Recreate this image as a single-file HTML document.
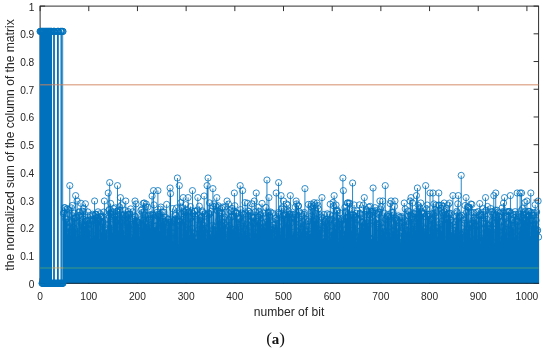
<!DOCTYPE html>
<html><head><meta charset="utf-8"><title>figure</title>
<style>html,body{margin:0;padding:0;background:#fff}svg{display:block}</style></head>
<body>
<svg width="550" height="350" viewBox="0 0 550 350">
<rect width="550" height="350" fill="#fff"/>
<rect x="40.1" y="6.1" width="498.5" height="277.2" fill="none" stroke="#262626" stroke-width="0.95"/>
<path d="M40.10 283.3v-5M40.10 6.1v5M40.1 283.30h5M538.6 283.30h-5M88.78 283.3v-5M88.78 6.1v5M40.1 255.58h5M538.6 255.58h-5M137.46 283.3v-5M137.46 6.1v5M40.1 227.86h5M538.6 227.86h-5M186.14 283.3v-5M186.14 6.1v5M40.1 200.14h5M538.6 200.14h-5M234.83 283.3v-5M234.83 6.1v5M40.1 172.42h5M538.6 172.42h-5M283.51 283.3v-5M283.51 6.1v5M40.1 144.70h5M538.6 144.70h-5M332.19 283.3v-5M332.19 6.1v5M40.1 116.98h5M538.6 116.98h-5M380.87 283.3v-5M380.87 6.1v5M40.1 89.26h5M538.6 89.26h-5M429.55 283.3v-5M429.55 6.1v5M40.1 61.54h5M538.6 61.54h-5M478.23 283.3v-5M478.23 6.1v5M40.1 33.82h5M538.6 33.82h-5M526.92 283.3v-5M526.92 6.1v5M40.1 6.10h5M538.6 6.10h-5" stroke="#262626" stroke-width="0.95" fill="none"/>
<defs><linearGradient id="g" x1="0" y1="0" x2="0" y2="1"><stop offset="0" stop-color="#0072BD" stop-opacity="0"/><stop offset="0.3" stop-color="#0072BD" stop-opacity="0.45"/><stop offset="1" stop-color="#0072BD" stop-opacity="0.85"/></linearGradient></defs>
<rect x="63.47" y="208" width="475.13" height="40" fill="url(#g)"/>
<rect x="63.47" y="248" width="475.13" height="35.30" fill="#0072BD" fill-opacity="0.85"/>
<path d="M39.6 283.3V31.41H52.0V283.3zM53.1 283.3V31.41H54.9V283.3zM57.0 283.3V31.41H58.8V283.3zM60.5 283.3V31.41H61.9V283.3zM62.3 283.3V31.41H63.15V283.3zM63.04 283.3V213.55h0.85V283.3zM63.53 283.3V211.99h0.85V283.3zM64.02 283.3V207.70h0.85V283.3zM64.50 283.3V207.78h0.85V283.3zM64.99 283.3V209.68h0.85V283.3zM65.48 283.3V219.26h0.85V283.3zM65.96 283.3V218.80h0.85V283.3zM66.45 283.3V222.21h0.85V283.3zM66.94 283.3V208.88h0.85V283.3zM67.42 283.3V233.83h0.85V283.3zM67.91 283.3V228.55h0.85V283.3zM68.40 283.3V209.84h0.85V283.3zM68.88 283.3V226.81h0.85V283.3zM69.37 283.3V185.60h0.85V283.3zM69.86 283.3V236.22h0.85V283.3zM70.34 283.3V222.79h0.85V283.3zM70.83 283.3V207.84h0.85V283.3zM71.32 283.3V229.69h0.85V283.3zM71.80 283.3V205.48h0.85V283.3zM72.29 283.3V215.79h0.85V283.3zM72.78 283.3V227.70h0.85V283.3zM73.27 283.3V217.99h0.85V283.3zM73.75 283.3V213.15h0.85V283.3zM74.24 283.3V218.29h0.85V283.3zM74.73 283.3V228.90h0.85V283.3zM75.21 283.3V195.60h0.85V283.3zM75.70 283.3V217.55h0.85V283.3zM76.19 283.3V236.98h0.85V283.3zM76.67 283.3V201.00h0.85V283.3zM77.16 283.3V227.91h0.85V283.3zM77.65 283.3V234.48h0.85V283.3zM78.13 283.3V212.31h0.85V283.3zM78.62 283.3V215.46h0.85V283.3zM79.11 283.3V211.66h0.85V283.3zM79.59 283.3V221.50h0.85V283.3zM80.08 283.3V235.15h0.85V283.3zM80.57 283.3V203.30h0.85V283.3zM81.05 283.3V223.07h0.85V283.3zM81.54 283.3V225.41h0.85V283.3zM82.03 283.3V211.15h0.85V283.3zM82.51 283.3V219.07h0.85V283.3zM83.00 283.3V211.78h0.85V283.3zM83.49 283.3V208.36h0.85V283.3zM83.98 283.3V225.91h0.85V283.3zM84.46 283.3V225.38h0.85V283.3zM84.95 283.3V203.78h0.85V283.3zM85.44 283.3V225.85h0.85V283.3zM85.92 283.3V221.34h0.85V283.3zM86.41 283.3V220.65h0.85V283.3zM86.90 283.3V219.98h0.85V283.3zM87.38 283.3V211.92h0.85V283.3zM87.87 283.3V224.26h0.85V283.3zM88.36 283.3V228.88h0.85V283.3zM88.84 283.3V220.19h0.85V283.3zM89.33 283.3V230.29h0.85V283.3zM89.82 283.3V215.58h0.85V283.3zM90.30 283.3V238.58h0.85V283.3zM90.79 283.3V219.49h0.85V283.3zM91.28 283.3V221.34h0.85V283.3zM91.76 283.3V237.66h0.85V283.3zM92.25 283.3V214.33h0.85V283.3zM92.74 283.3V220.83h0.85V283.3zM93.22 283.3V215.41h0.85V283.3zM93.71 283.3V235.76h0.85V283.3zM94.20 283.3V201.00h0.85V283.3zM94.69 283.3V219.95h0.85V283.3zM95.17 283.3V214.33h0.85V283.3zM95.66 283.3V214.51h0.85V283.3zM96.15 283.3V223.49h0.85V283.3zM96.63 283.3V217.88h0.85V283.3zM97.12 283.3V217.78h0.85V283.3zM97.61 283.3V211.83h0.85V283.3zM98.09 283.3V220.64h0.85V283.3zM98.58 283.3V220.56h0.85V283.3zM99.07 283.3V239.01h0.85V283.3zM99.55 283.3V213.82h0.85V283.3zM100.04 283.3V221.00h0.85V283.3zM100.53 283.3V216.19h0.85V283.3zM101.01 283.3V217.47h0.85V283.3zM101.50 283.3V232.27h0.85V283.3zM101.99 283.3V223.63h0.85V283.3zM102.47 283.3V222.04h0.85V283.3zM102.96 283.3V216.61h0.85V283.3zM103.45 283.3V212.05h0.85V283.3zM103.93 283.3V201.00h0.85V283.3zM104.42 283.3V227.56h0.85V283.3zM104.91 283.3V220.15h0.85V283.3zM105.40 283.3V233.20h0.85V283.3zM105.88 283.3V230.52h0.85V283.3zM106.37 283.3V229.24h0.85V283.3zM106.86 283.3V240.06h0.85V283.3zM107.34 283.3V218.58h0.85V283.3zM107.83 283.3V193.00h0.85V283.3zM108.32 283.3V210.64h0.85V283.3zM108.80 283.3V209.51h0.85V283.3zM109.29 283.3V182.60h0.85V283.3zM109.78 283.3V213.06h0.85V283.3zM110.26 283.3V203.46h0.85V283.3zM110.75 283.3V214.43h0.85V283.3zM111.24 283.3V224.64h0.85V283.3zM111.72 283.3V232.38h0.85V283.3zM112.21 283.3V216.89h0.85V283.3zM112.70 283.3V211.74h0.85V283.3zM113.18 283.3V208.66h0.85V283.3zM113.67 283.3V215.02h0.85V283.3zM114.16 283.3V215.73h0.85V283.3zM114.64 283.3V217.10h0.85V283.3zM115.13 283.3V207.80h0.85V283.3zM115.62 283.3V222.06h0.85V283.3zM116.11 283.3V216.25h0.85V283.3zM116.59 283.3V211.24h0.85V283.3zM117.08 283.3V185.60h0.85V283.3zM117.57 283.3V214.52h0.85V283.3zM118.05 283.3V230.22h0.85V283.3zM118.54 283.3V219.23h0.85V283.3zM119.03 283.3V206.82h0.85V283.3zM119.51 283.3V210.26h0.85V283.3zM120.00 283.3V197.60h0.85V283.3zM120.49 283.3V214.11h0.85V283.3zM120.97 283.3V222.82h0.85V283.3zM121.46 283.3V204.87h0.85V283.3zM121.95 283.3V220.24h0.85V283.3zM122.43 283.3V215.04h0.85V283.3zM122.92 283.3V216.85h0.85V283.3zM123.41 283.3V230.12h0.85V283.3zM123.89 283.3V214.25h0.85V283.3zM124.38 283.3V234.97h0.85V283.3zM124.87 283.3V210.56h0.85V283.3zM125.35 283.3V201.00h0.85V283.3zM125.84 283.3V215.97h0.85V283.3zM126.33 283.3V223.20h0.85V283.3zM126.82 283.3V214.68h0.85V283.3zM127.30 283.3V223.82h0.85V283.3zM127.79 283.3V211.53h0.85V283.3zM128.28 283.3V214.49h0.85V283.3zM128.76 283.3V221.70h0.85V283.3zM129.25 283.3V214.17h0.85V283.3zM129.74 283.3V221.53h0.85V283.3zM130.22 283.3V208.91h0.85V283.3zM130.71 283.3V237.66h0.85V283.3zM131.20 283.3V224.71h0.85V283.3zM131.68 283.3V234.68h0.85V283.3zM132.17 283.3V211.85h0.85V283.3zM132.66 283.3V224.04h0.85V283.3zM133.14 283.3V219.74h0.85V283.3zM133.63 283.3V226.67h0.85V283.3zM134.12 283.3V215.83h0.85V283.3zM134.60 283.3V201.00h0.85V283.3zM135.09 283.3V216.68h0.85V283.3zM135.58 283.3V203.90h0.85V283.3zM136.06 283.3V220.75h0.85V283.3zM136.55 283.3V222.55h0.85V283.3zM137.04 283.3V221.71h0.85V283.3zM137.53 283.3V223.70h0.85V283.3zM138.01 283.3V224.78h0.85V283.3zM138.50 283.3V222.61h0.85V283.3zM138.99 283.3V228.28h0.85V283.3zM139.47 283.3V236.35h0.85V283.3zM139.96 283.3V219.83h0.85V283.3zM140.45 283.3V210.39h0.85V283.3zM140.93 283.3V225.97h0.85V283.3zM141.42 283.3V209.25h0.85V283.3zM141.91 283.3V212.47h0.85V283.3zM142.39 283.3V228.94h0.85V283.3zM142.88 283.3V203.36h0.85V283.3zM143.37 283.3V220.08h0.85V283.3zM143.85 283.3V203.00h0.85V283.3zM144.34 283.3V222.54h0.85V283.3zM144.83 283.3V215.15h0.85V283.3zM145.31 283.3V206.84h0.85V283.3zM145.80 283.3V204.05h0.85V283.3zM146.29 283.3V223.80h0.85V283.3zM146.77 283.3V228.50h0.85V283.3zM147.26 283.3V207.15h0.85V283.3zM147.75 283.3V216.11h0.85V283.3zM148.24 283.3V214.87h0.85V283.3zM148.72 283.3V219.16h0.85V283.3zM149.21 283.3V225.92h0.85V283.3zM149.70 283.3V228.49h0.85V283.3zM150.18 283.3V214.79h0.85V283.3zM150.67 283.3V222.24h0.85V283.3zM151.16 283.3V218.75h0.85V283.3zM151.64 283.3V196.00h0.85V283.3zM152.13 283.3V214.14h0.85V283.3zM152.62 283.3V215.27h0.85V283.3zM153.10 283.3V190.60h0.85V283.3zM153.59 283.3V204.88h0.85V283.3zM154.08 283.3V226.66h0.85V283.3zM154.56 283.3V228.04h0.85V283.3zM155.05 283.3V226.29h0.85V283.3zM155.54 283.3V214.98h0.85V283.3zM156.02 283.3V225.65h0.85V283.3zM156.51 283.3V212.42h0.85V283.3zM157.00 283.3V216.13h0.85V283.3zM157.48 283.3V190.60h0.85V283.3zM157.97 283.3V214.29h0.85V283.3zM158.46 283.3V216.97h0.85V283.3zM158.95 283.3V214.83h0.85V283.3zM159.43 283.3V231.09h0.85V283.3zM159.92 283.3V209.17h0.85V283.3zM160.41 283.3V207.04h0.85V283.3zM160.89 283.3V223.19h0.85V283.3zM161.38 283.3V221.67h0.85V283.3zM161.87 283.3V211.96h0.85V283.3zM162.35 283.3V219.30h0.85V283.3zM162.84 283.3V221.42h0.85V283.3zM163.33 283.3V212.09h0.85V283.3zM163.81 283.3V221.75h0.85V283.3zM164.30 283.3V221.72h0.85V283.3zM164.79 283.3V217.10h0.85V283.3zM165.27 283.3V224.24h0.85V283.3zM165.76 283.3V235.55h0.85V283.3zM166.25 283.3V204.41h0.85V283.3zM166.73 283.3V226.80h0.85V283.3zM167.22 283.3V228.30h0.85V283.3zM167.71 283.3V218.94h0.85V283.3zM168.19 283.3V219.36h0.85V283.3zM168.68 283.3V222.89h0.85V283.3zM169.17 283.3V222.60h0.85V283.3zM169.65 283.3V188.00h0.85V283.3zM170.14 283.3V193.60h0.85V283.3zM170.63 283.3V222.48h0.85V283.3zM171.12 283.3V219.86h0.85V283.3zM171.60 283.3V232.72h0.85V283.3zM172.09 283.3V208.60h0.85V283.3zM172.58 283.3V240.94h0.85V283.3zM173.06 283.3V222.55h0.85V283.3zM173.55 283.3V233.24h0.85V283.3zM174.04 283.3V220.94h0.85V283.3zM174.52 283.3V214.95h0.85V283.3zM175.01 283.3V219.11h0.85V283.3zM175.50 283.3V215.39h0.85V283.3zM175.98 283.3V208.07h0.85V283.3zM176.47 283.3V219.77h0.85V283.3zM176.96 283.3V178.00h0.85V283.3zM177.44 283.3V225.40h0.85V283.3zM177.93 283.3V244.34h0.85V283.3zM178.42 283.3V221.82h0.85V283.3zM178.90 283.3V185.60h0.85V283.3zM179.39 283.3V221.40h0.85V283.3zM179.88 283.3V221.12h0.85V283.3zM180.36 283.3V202.69h0.85V283.3zM180.85 283.3V213.93h0.85V283.3zM181.34 283.3V207.32h0.85V283.3zM181.83 283.3V238.00h0.85V283.3zM182.31 283.3V219.84h0.85V283.3zM182.80 283.3V197.60h0.85V283.3zM183.29 283.3V211.45h0.85V283.3zM183.77 283.3V222.47h0.85V283.3zM184.26 283.3V212.40h0.85V283.3zM184.75 283.3V211.83h0.85V283.3zM185.23 283.3V204.66h0.85V283.3zM185.72 283.3V230.04h0.85V283.3zM186.21 283.3V209.58h0.85V283.3zM186.69 283.3V212.57h0.85V283.3zM187.18 283.3V224.50h0.85V283.3zM187.67 283.3V197.60h0.85V283.3zM188.15 283.3V211.88h0.85V283.3zM188.64 283.3V234.89h0.85V283.3zM189.13 283.3V216.11h0.85V283.3zM189.61 283.3V218.70h0.85V283.3zM190.10 283.3V206.57h0.85V283.3zM190.59 283.3V217.83h0.85V283.3zM191.07 283.3V210.87h0.85V283.3zM191.56 283.3V228.46h0.85V283.3zM192.05 283.3V190.60h0.85V283.3zM192.54 283.3V213.56h0.85V283.3zM193.02 283.3V233.52h0.85V283.3zM193.51 283.3V232.85h0.85V283.3zM194.00 283.3V211.28h0.85V283.3zM194.48 283.3V216.17h0.85V283.3zM194.97 283.3V211.42h0.85V283.3zM195.46 283.3V238.75h0.85V283.3zM195.94 283.3V239.07h0.85V283.3zM196.43 283.3V219.37h0.85V283.3zM196.92 283.3V210.00h0.85V283.3zM197.40 283.3V197.60h0.85V283.3zM197.89 283.3V214.70h0.85V283.3zM198.38 283.3V229.66h0.85V283.3zM198.86 283.3V206.16h0.85V283.3zM199.35 283.3V225.40h0.85V283.3zM199.84 283.3V217.83h0.85V283.3zM200.32 283.3V221.34h0.85V283.3zM200.81 283.3V220.36h0.85V283.3zM201.30 283.3V216.77h0.85V283.3zM201.78 283.3V210.83h0.85V283.3zM202.27 283.3V212.16h0.85V283.3zM202.76 283.3V225.02h0.85V283.3zM203.25 283.3V230.26h0.85V283.3zM203.73 283.3V196.00h0.85V283.3zM204.22 283.3V213.89h0.85V283.3zM204.71 283.3V222.66h0.85V283.3zM205.19 283.3V228.25h0.85V283.3zM205.68 283.3V238.46h0.85V283.3zM206.17 283.3V215.42h0.85V283.3zM206.65 283.3V185.60h0.85V283.3zM207.14 283.3V229.68h0.85V283.3zM207.63 283.3V178.00h0.85V283.3zM208.11 283.3V213.03h0.85V283.3zM208.60 283.3V214.65h0.85V283.3zM209.09 283.3V202.89h0.85V283.3zM209.57 283.3V213.73h0.85V283.3zM210.06 283.3V234.93h0.85V283.3zM210.55 283.3V234.18h0.85V283.3zM211.03 283.3V211.38h0.85V283.3zM211.52 283.3V236.76h0.85V283.3zM212.01 283.3V225.46h0.85V283.3zM212.49 283.3V188.60h0.85V283.3zM212.98 283.3V206.48h0.85V283.3zM213.47 283.3V203.88h0.85V283.3zM213.96 283.3V234.72h0.85V283.3zM214.44 283.3V225.98h0.85V283.3zM214.93 283.3V227.48h0.85V283.3zM215.42 283.3V205.95h0.85V283.3zM215.90 283.3V230.63h0.85V283.3zM216.39 283.3V197.60h0.85V283.3zM216.88 283.3V210.57h0.85V283.3zM217.36 283.3V207.62h0.85V283.3zM217.85 283.3V205.78h0.85V283.3zM218.34 283.3V220.18h0.85V283.3zM218.82 283.3V212.55h0.85V283.3zM219.31 283.3V216.18h0.85V283.3zM219.80 283.3V219.23h0.85V283.3zM220.28 283.3V227.60h0.85V283.3zM220.77 283.3V213.07h0.85V283.3zM221.26 283.3V208.48h0.85V283.3zM221.74 283.3V213.35h0.85V283.3zM222.23 283.3V207.05h0.85V283.3zM222.72 283.3V226.47h0.85V283.3zM223.20 283.3V222.88h0.85V283.3zM223.69 283.3V219.35h0.85V283.3zM224.18 283.3V217.09h0.85V283.3zM224.67 283.3V206.78h0.85V283.3zM225.15 283.3V225.36h0.85V283.3zM225.64 283.3V239.35h0.85V283.3zM226.13 283.3V231.44h0.85V283.3zM226.61 283.3V201.00h0.85V283.3zM227.10 283.3V229.03h0.85V283.3zM227.59 283.3V227.42h0.85V283.3zM228.07 283.3V204.06h0.85V283.3zM228.56 283.3V219.61h0.85V283.3zM229.05 283.3V226.10h0.85V283.3zM229.53 283.3V210.37h0.85V283.3zM230.02 283.3V228.96h0.85V283.3zM230.51 283.3V217.06h0.85V283.3zM230.99 283.3V211.76h0.85V283.3zM231.48 283.3V208.42h0.85V283.3zM231.97 283.3V216.62h0.85V283.3zM232.45 283.3V229.60h0.85V283.3zM232.94 283.3V229.50h0.85V283.3zM233.43 283.3V210.88h0.85V283.3zM233.91 283.3V193.00h0.85V283.3zM234.40 283.3V205.70h0.85V283.3zM234.89 283.3V231.40h0.85V283.3zM235.38 283.3V213.31h0.85V283.3zM235.86 283.3V212.35h0.85V283.3zM236.35 283.3V213.30h0.85V283.3zM236.84 283.3V216.75h0.85V283.3zM237.32 283.3V223.71h0.85V283.3zM237.81 283.3V219.43h0.85V283.3zM238.30 283.3V227.30h0.85V283.3zM238.78 283.3V218.60h0.85V283.3zM239.27 283.3V236.81h0.85V283.3zM239.76 283.3V185.60h0.85V283.3zM240.24 283.3V209.59h0.85V283.3zM240.73 283.3V232.40h0.85V283.3zM241.22 283.3V213.13h0.85V283.3zM241.70 283.3V234.40h0.85V283.3zM242.19 283.3V190.60h0.85V283.3zM242.68 283.3V222.87h0.85V283.3zM243.16 283.3V214.26h0.85V283.3zM243.65 283.3V221.04h0.85V283.3zM244.14 283.3V231.04h0.85V283.3zM244.62 283.3V202.60h0.85V283.3zM245.11 283.3V229.28h0.85V283.3zM245.60 283.3V213.74h0.85V283.3zM246.09 283.3V234.45h0.85V283.3zM246.57 283.3V224.14h0.85V283.3zM247.06 283.3V203.20h0.85V283.3zM247.55 283.3V210.78h0.85V283.3zM248.03 283.3V215.50h0.85V283.3zM248.52 283.3V211.39h0.85V283.3zM249.01 283.3V226.94h0.85V283.3zM249.49 283.3V236.74h0.85V283.3zM249.98 283.3V213.11h0.85V283.3zM250.47 283.3V238.27h0.85V283.3zM250.95 283.3V216.61h0.85V283.3zM251.44 283.3V203.79h0.85V283.3zM251.93 283.3V217.66h0.85V283.3zM252.41 283.3V222.80h0.85V283.3zM252.90 283.3V217.43h0.85V283.3zM253.39 283.3V223.53h0.85V283.3zM253.87 283.3V201.00h0.85V283.3zM254.36 283.3V232.53h0.85V283.3zM254.85 283.3V211.84h0.85V283.3zM255.33 283.3V223.41h0.85V283.3zM255.82 283.3V193.00h0.85V283.3zM256.31 283.3V233.33h0.85V283.3zM256.80 283.3V221.52h0.85V283.3zM257.28 283.3V221.33h0.85V283.3zM257.77 283.3V207.16h0.85V283.3zM258.26 283.3V217.23h0.85V283.3zM258.74 283.3V211.37h0.85V283.3zM259.23 283.3V223.18h0.85V283.3zM259.72 283.3V215.17h0.85V283.3zM260.20 283.3V214.08h0.85V283.3zM260.69 283.3V228.07h0.85V283.3zM261.18 283.3V228.31h0.85V283.3zM261.66 283.3V203.41h0.85V283.3zM262.15 283.3V223.49h0.85V283.3zM262.64 283.3V213.04h0.85V283.3zM263.12 283.3V226.48h0.85V283.3zM263.61 283.3V227.21h0.85V283.3zM264.10 283.3V228.90h0.85V283.3zM264.58 283.3V222.06h0.85V283.3zM265.07 283.3V227.67h0.85V283.3zM265.56 283.3V207.43h0.85V283.3zM266.04 283.3V218.81h0.85V283.3zM266.53 283.3V180.00h0.85V283.3zM267.02 283.3V221.63h0.85V283.3zM267.51 283.3V213.14h0.85V283.3zM267.99 283.3V212.06h0.85V283.3zM268.48 283.3V197.60h0.85V283.3zM268.97 283.3V216.07h0.85V283.3zM269.45 283.3V217.17h0.85V283.3zM269.94 283.3V211.90h0.85V283.3zM270.43 283.3V220.12h0.85V283.3zM270.91 283.3V229.05h0.85V283.3zM271.40 283.3V229.76h0.85V283.3zM271.89 283.3V213.15h0.85V283.3zM272.37 283.3V227.38h0.85V283.3zM272.86 283.3V225.23h0.85V283.3zM273.35 283.3V238.79h0.85V283.3zM273.83 283.3V228.48h0.85V283.3zM274.32 283.3V230.05h0.85V283.3zM274.81 283.3V218.66h0.85V283.3zM275.29 283.3V236.78h0.85V283.3zM275.78 283.3V193.00h0.85V283.3zM276.27 283.3V228.65h0.85V283.3zM276.75 283.3V220.07h0.85V283.3zM277.24 283.3V231.24h0.85V283.3zM277.73 283.3V212.77h0.85V283.3zM278.22 283.3V182.60h0.85V283.3zM278.70 283.3V214.24h0.85V283.3zM279.19 283.3V216.15h0.85V283.3zM279.68 283.3V232.12h0.85V283.3zM280.16 283.3V234.60h0.85V283.3zM280.65 283.3V195.60h0.85V283.3zM281.14 283.3V209.20h0.85V283.3zM281.62 283.3V207.84h0.85V283.3zM282.11 283.3V226.32h0.85V283.3zM282.60 283.3V215.66h0.85V283.3zM283.08 283.3V201.00h0.85V283.3zM283.57 283.3V215.19h0.85V283.3zM284.06 283.3V215.42h0.85V283.3zM284.54 283.3V219.36h0.85V283.3zM285.03 283.3V214.29h0.85V283.3zM285.52 283.3V237.98h0.85V283.3zM286.00 283.3V203.92h0.85V283.3zM286.49 283.3V222.79h0.85V283.3zM286.98 283.3V212.39h0.85V283.3zM287.46 283.3V204.98h0.85V283.3zM287.95 283.3V225.31h0.85V283.3zM288.44 283.3V211.26h0.85V283.3zM288.93 283.3V214.06h0.85V283.3zM289.41 283.3V214.48h0.85V283.3zM289.90 283.3V195.60h0.85V283.3zM290.39 283.3V223.01h0.85V283.3zM290.87 283.3V217.44h0.85V283.3zM291.36 283.3V218.56h0.85V283.3zM291.85 283.3V214.57h0.85V283.3zM292.33 283.3V234.91h0.85V283.3zM292.82 283.3V232.41h0.85V283.3zM293.31 283.3V216.92h0.85V283.3zM293.79 283.3V217.61h0.85V283.3zM294.28 283.3V214.20h0.85V283.3zM294.77 283.3V207.14h0.85V283.3zM295.25 283.3V214.81h0.85V283.3zM295.74 283.3V201.00h0.85V283.3zM296.23 283.3V203.86h0.85V283.3zM296.71 283.3V231.20h0.85V283.3zM297.20 283.3V237.78h0.85V283.3zM297.69 283.3V205.78h0.85V283.3zM298.17 283.3V206.04h0.85V283.3zM298.66 283.3V235.05h0.85V283.3zM299.15 283.3V211.93h0.85V283.3zM299.63 283.3V223.29h0.85V283.3zM300.12 283.3V229.10h0.85V283.3zM300.61 283.3V213.56h0.85V283.3zM301.10 283.3V232.65h0.85V283.3zM301.58 283.3V215.98h0.85V283.3zM302.07 283.3V229.49h0.85V283.3zM302.56 283.3V221.94h0.85V283.3zM303.04 283.3V225.89h0.85V283.3zM303.53 283.3V214.36h0.85V283.3zM304.02 283.3V212.55h0.85V283.3zM304.50 283.3V188.60h0.85V283.3zM304.99 283.3V219.24h0.85V283.3zM305.48 283.3V231.11h0.85V283.3zM305.96 283.3V236.10h0.85V283.3zM306.45 283.3V226.08h0.85V283.3zM306.94 283.3V234.10h0.85V283.3zM307.42 283.3V221.40h0.85V283.3zM307.91 283.3V204.48h0.85V283.3zM308.40 283.3V226.23h0.85V283.3zM308.88 283.3V218.92h0.85V283.3zM309.37 283.3V233.90h0.85V283.3zM309.86 283.3V234.37h0.85V283.3zM310.34 283.3V206.43h0.85V283.3zM310.83 283.3V204.15h0.85V283.3zM311.32 283.3V215.90h0.85V283.3zM311.81 283.3V208.13h0.85V283.3zM312.29 283.3V211.68h0.85V283.3zM312.78 283.3V205.71h0.85V283.3zM313.27 283.3V220.82h0.85V283.3zM313.75 283.3V202.67h0.85V283.3zM314.24 283.3V221.67h0.85V283.3zM314.73 283.3V205.00h0.85V283.3zM315.21 283.3V220.57h0.85V283.3zM315.70 283.3V218.89h0.85V283.3zM316.19 283.3V213.59h0.85V283.3zM316.67 283.3V203.00h0.85V283.3zM317.16 283.3V224.82h0.85V283.3zM317.65 283.3V205.65h0.85V283.3zM318.13 283.3V208.85h0.85V283.3zM318.62 283.3V214.57h0.85V283.3zM319.11 283.3V230.35h0.85V283.3zM319.59 283.3V224.17h0.85V283.3zM320.08 283.3V226.63h0.85V283.3zM320.57 283.3V230.10h0.85V283.3zM321.05 283.3V217.04h0.85V283.3zM321.54 283.3V197.60h0.85V283.3zM322.03 283.3V218.45h0.85V283.3zM322.52 283.3V238.97h0.85V283.3zM323.00 283.3V238.25h0.85V283.3zM323.49 283.3V214.56h0.85V283.3zM323.98 283.3V227.86h0.85V283.3zM324.46 283.3V221.88h0.85V283.3zM324.95 283.3V221.21h0.85V283.3zM325.44 283.3V219.59h0.85V283.3zM325.92 283.3V223.61h0.85V283.3zM326.41 283.3V224.59h0.85V283.3zM326.90 283.3V213.86h0.85V283.3zM327.38 283.3V226.38h0.85V283.3zM327.87 283.3V221.74h0.85V283.3zM328.36 283.3V240.24h0.85V283.3zM328.84 283.3V219.76h0.85V283.3zM329.33 283.3V214.60h0.85V283.3zM329.82 283.3V204.18h0.85V283.3zM330.30 283.3V238.52h0.85V283.3zM330.79 283.3V231.68h0.85V283.3zM331.28 283.3V219.40h0.85V283.3zM331.76 283.3V215.88h0.85V283.3zM332.25 283.3V231.34h0.85V283.3zM332.74 283.3V202.38h0.85V283.3zM333.23 283.3V205.82h0.85V283.3zM333.71 283.3V195.60h0.85V283.3zM334.20 283.3V223.72h0.85V283.3zM334.69 283.3V222.00h0.85V283.3zM335.17 283.3V228.65h0.85V283.3zM335.66 283.3V205.00h0.85V283.3zM336.15 283.3V211.30h0.85V283.3zM336.63 283.3V209.89h0.85V283.3zM337.12 283.3V211.30h0.85V283.3zM337.61 283.3V242.07h0.85V283.3zM338.09 283.3V218.78h0.85V283.3zM338.58 283.3V223.66h0.85V283.3zM339.07 283.3V222.33h0.85V283.3zM339.55 283.3V212.83h0.85V283.3zM340.04 283.3V230.25h0.85V283.3zM340.53 283.3V221.28h0.85V283.3zM341.01 283.3V219.08h0.85V283.3zM341.50 283.3V220.19h0.85V283.3zM341.99 283.3V224.33h0.85V283.3zM342.47 283.3V178.00h0.85V283.3zM342.96 283.3V190.60h0.85V283.3zM343.45 283.3V235.48h0.85V283.3zM343.94 283.3V230.64h0.85V283.3zM344.42 283.3V207.25h0.85V283.3zM344.91 283.3V212.68h0.85V283.3zM345.40 283.3V211.53h0.85V283.3zM345.88 283.3V219.29h0.85V283.3zM346.37 283.3V217.69h0.85V283.3zM346.86 283.3V203.03h0.85V283.3zM347.34 283.3V203.00h0.85V283.3zM347.83 283.3V216.86h0.85V283.3zM348.32 283.3V209.69h0.85V283.3zM348.80 283.3V203.00h0.85V283.3zM349.29 283.3V203.58h0.85V283.3zM349.78 283.3V217.45h0.85V283.3zM350.26 283.3V215.36h0.85V283.3zM350.75 283.3V230.46h0.85V283.3zM351.24 283.3V217.85h0.85V283.3zM351.72 283.3V214.56h0.85V283.3zM352.21 283.3V183.00h0.85V283.3zM352.70 283.3V215.26h0.85V283.3zM353.18 283.3V215.20h0.85V283.3zM353.67 283.3V204.94h0.85V283.3zM354.16 283.3V217.15h0.85V283.3zM354.65 283.3V224.64h0.85V283.3zM355.13 283.3V217.28h0.85V283.3zM355.62 283.3V241.41h0.85V283.3zM356.11 283.3V213.30h0.85V283.3zM356.59 283.3V219.80h0.85V283.3zM357.08 283.3V210.96h0.85V283.3zM357.57 283.3V236.94h0.85V283.3zM358.05 283.3V233.34h0.85V283.3zM358.54 283.3V231.64h0.85V283.3zM359.03 283.3V204.88h0.85V283.3zM359.51 283.3V213.30h0.85V283.3zM360.00 283.3V214.31h0.85V283.3zM360.49 283.3V230.27h0.85V283.3zM360.97 283.3V222.40h0.85V283.3zM361.46 283.3V215.57h0.85V283.3zM361.95 283.3V222.54h0.85V283.3zM362.43 283.3V222.29h0.85V283.3zM362.92 283.3V205.05h0.85V283.3zM363.41 283.3V228.36h0.85V283.3zM363.89 283.3V197.60h0.85V283.3zM364.38 283.3V214.37h0.85V283.3zM364.87 283.3V223.69h0.85V283.3zM365.36 283.3V222.22h0.85V283.3zM365.84 283.3V209.42h0.85V283.3zM366.33 283.3V210.87h0.85V283.3zM366.82 283.3V211.73h0.85V283.3zM367.30 283.3V223.09h0.85V283.3zM367.79 283.3V226.08h0.85V283.3zM368.28 283.3V207.13h0.85V283.3zM368.76 283.3V214.63h0.85V283.3zM369.25 283.3V214.89h0.85V283.3zM369.74 283.3V206.38h0.85V283.3zM370.22 283.3V211.26h0.85V283.3zM370.71 283.3V238.89h0.85V283.3zM371.20 283.3V239.42h0.85V283.3zM371.68 283.3V211.41h0.85V283.3zM372.17 283.3V213.01h0.85V283.3zM372.66 283.3V188.00h0.85V283.3zM373.14 283.3V237.91h0.85V283.3zM373.63 283.3V221.72h0.85V283.3zM374.12 283.3V211.60h0.85V283.3zM374.60 283.3V207.70h0.85V283.3zM375.09 283.3V210.47h0.85V283.3zM375.58 283.3V213.05h0.85V283.3zM376.07 283.3V219.84h0.85V283.3zM376.55 283.3V223.46h0.85V283.3zM377.04 283.3V240.71h0.85V283.3zM377.53 283.3V227.55h0.85V283.3zM378.01 283.3V214.15h0.85V283.3zM378.50 283.3V224.19h0.85V283.3zM378.99 283.3V212.32h0.85V283.3zM379.47 283.3V201.00h0.85V283.3zM379.96 283.3V209.02h0.85V283.3zM380.45 283.3V222.92h0.85V283.3zM380.93 283.3V206.63h0.85V283.3zM381.42 283.3V234.48h0.85V283.3zM381.91 283.3V227.76h0.85V283.3zM382.39 283.3V201.00h0.85V283.3zM382.88 283.3V228.87h0.85V283.3zM383.37 283.3V231.32h0.85V283.3zM383.85 283.3V213.13h0.85V283.3zM384.34 283.3V232.34h0.85V283.3zM384.83 283.3V185.60h0.85V283.3zM385.31 283.3V219.80h0.85V283.3zM385.80 283.3V218.73h0.85V283.3zM386.29 283.3V236.47h0.85V283.3zM386.78 283.3V215.93h0.85V283.3zM387.26 283.3V216.80h0.85V283.3zM387.75 283.3V214.50h0.85V283.3zM388.24 283.3V216.69h0.85V283.3zM388.72 283.3V232.33h0.85V283.3zM389.21 283.3V218.44h0.85V283.3zM389.70 283.3V203.58h0.85V283.3zM390.18 283.3V236.63h0.85V283.3zM390.67 283.3V201.00h0.85V283.3zM391.16 283.3V212.51h0.85V283.3zM391.64 283.3V231.27h0.85V283.3zM392.13 283.3V224.33h0.85V283.3zM392.62 283.3V212.45h0.85V283.3zM393.10 283.3V215.08h0.85V283.3zM393.59 283.3V231.02h0.85V283.3zM394.08 283.3V206.36h0.85V283.3zM394.56 283.3V201.00h0.85V283.3zM395.05 283.3V218.37h0.85V283.3zM395.54 283.3V220.56h0.85V283.3zM396.02 283.3V222.52h0.85V283.3zM396.51 283.3V219.99h0.85V283.3zM397.00 283.3V233.70h0.85V283.3zM397.49 283.3V228.78h0.85V283.3zM397.97 283.3V215.92h0.85V283.3zM398.46 283.3V226.14h0.85V283.3zM398.95 283.3V222.46h0.85V283.3zM399.43 283.3V217.12h0.85V283.3zM399.92 283.3V243.02h0.85V283.3zM400.41 283.3V239.09h0.85V283.3zM400.89 283.3V232.91h0.85V283.3zM401.38 283.3V216.65h0.85V283.3zM401.87 283.3V218.18h0.85V283.3zM402.35 283.3V223.01h0.85V283.3zM402.84 283.3V228.02h0.85V283.3zM403.33 283.3V221.95h0.85V283.3zM403.81 283.3V203.00h0.85V283.3zM404.30 283.3V219.82h0.85V283.3zM404.79 283.3V208.91h0.85V283.3zM405.27 283.3V229.84h0.85V283.3zM405.76 283.3V234.08h0.85V283.3zM406.25 283.3V221.60h0.85V283.3zM406.73 283.3V230.67h0.85V283.3zM407.22 283.3V226.26h0.85V283.3zM407.71 283.3V210.84h0.85V283.3zM408.20 283.3V215.83h0.85V283.3zM408.68 283.3V211.66h0.85V283.3zM409.17 283.3V233.74h0.85V283.3zM409.66 283.3V201.00h0.85V283.3zM410.14 283.3V215.08h0.85V283.3zM410.63 283.3V197.60h0.85V283.3zM411.12 283.3V218.79h0.85V283.3zM411.60 283.3V234.30h0.85V283.3zM412.09 283.3V203.01h0.85V283.3zM412.58 283.3V216.76h0.85V283.3zM413.06 283.3V226.12h0.85V283.3zM413.55 283.3V213.59h0.85V283.3zM414.04 283.3V224.01h0.85V283.3zM414.52 283.3V213.85h0.85V283.3zM415.01 283.3V229.64h0.85V283.3zM415.50 283.3V211.71h0.85V283.3zM415.98 283.3V195.60h0.85V283.3zM416.47 283.3V213.84h0.85V283.3zM416.96 283.3V188.00h0.85V283.3zM417.44 283.3V218.90h0.85V283.3zM417.93 283.3V205.52h0.85V283.3zM418.42 283.3V214.37h0.85V283.3zM418.90 283.3V209.24h0.85V283.3zM419.39 283.3V207.60h0.85V283.3zM419.88 283.3V216.87h0.85V283.3zM420.37 283.3V203.00h0.85V283.3zM420.85 283.3V212.42h0.85V283.3zM421.34 283.3V211.43h0.85V283.3zM421.83 283.3V213.94h0.85V283.3zM422.31 283.3V226.62h0.85V283.3zM422.80 283.3V213.42h0.85V283.3zM423.29 283.3V213.65h0.85V283.3zM423.77 283.3V228.66h0.85V283.3zM424.26 283.3V232.26h0.85V283.3zM424.75 283.3V216.70h0.85V283.3zM425.23 283.3V185.60h0.85V283.3zM425.72 283.3V228.64h0.85V283.3zM426.21 283.3V208.85h0.85V283.3zM426.69 283.3V205.03h0.85V283.3zM427.18 283.3V214.34h0.85V283.3zM427.67 283.3V216.50h0.85V283.3zM428.15 283.3V216.00h0.85V283.3zM428.64 283.3V233.90h0.85V283.3zM429.13 283.3V214.33h0.85V283.3zM429.61 283.3V193.00h0.85V283.3zM430.10 283.3V226.21h0.85V283.3zM430.59 283.3V219.08h0.85V283.3zM431.08 283.3V221.06h0.85V283.3zM431.56 283.3V213.64h0.85V283.3zM432.05 283.3V219.72h0.85V283.3zM432.54 283.3V193.00h0.85V283.3zM433.02 283.3V229.04h0.85V283.3zM433.51 283.3V203.92h0.85V283.3zM434.00 283.3V212.97h0.85V283.3zM434.48 283.3V209.48h0.85V283.3zM434.97 283.3V216.43h0.85V283.3zM435.46 283.3V205.24h0.85V283.3zM435.94 283.3V212.51h0.85V283.3zM436.43 283.3V228.70h0.85V283.3zM436.92 283.3V227.46h0.85V283.3zM437.40 283.3V236.60h0.85V283.3zM437.89 283.3V205.20h0.85V283.3zM438.38 283.3V193.00h0.85V283.3zM438.86 283.3V205.16h0.85V283.3zM439.35 283.3V223.97h0.85V283.3zM439.84 283.3V229.66h0.85V283.3zM440.32 283.3V208.41h0.85V283.3zM440.81 283.3V231.01h0.85V283.3zM441.30 283.3V205.12h0.85V283.3zM441.79 283.3V221.15h0.85V283.3zM442.27 283.3V212.90h0.85V283.3zM442.76 283.3V206.47h0.85V283.3zM443.25 283.3V215.19h0.85V283.3zM443.73 283.3V203.00h0.85V283.3zM444.22 283.3V211.86h0.85V283.3zM444.71 283.3V239.97h0.85V283.3zM445.19 283.3V214.44h0.85V283.3zM445.68 283.3V218.85h0.85V283.3zM446.17 283.3V208.72h0.85V283.3zM446.65 283.3V219.92h0.85V283.3zM447.14 283.3V218.50h0.85V283.3zM447.63 283.3V205.02h0.85V283.3zM448.11 283.3V213.05h0.85V283.3zM448.60 283.3V214.66h0.85V283.3zM449.09 283.3V203.12h0.85V283.3zM449.57 283.3V213.14h0.85V283.3zM450.06 283.3V220.28h0.85V283.3zM450.55 283.3V220.00h0.85V283.3zM451.03 283.3V233.89h0.85V283.3zM451.52 283.3V236.07h0.85V283.3zM452.01 283.3V222.18h0.85V283.3zM452.50 283.3V195.60h0.85V283.3zM452.98 283.3V230.60h0.85V283.3zM453.47 283.3V224.70h0.85V283.3zM453.96 283.3V234.20h0.85V283.3zM454.44 283.3V234.71h0.85V283.3zM454.93 283.3V227.44h0.85V283.3zM455.42 283.3V221.74h0.85V283.3zM455.90 283.3V216.34h0.85V283.3zM456.39 283.3V211.41h0.85V283.3zM456.88 283.3V212.77h0.85V283.3zM457.36 283.3V203.86h0.85V283.3zM457.85 283.3V195.60h0.85V283.3zM458.34 283.3V218.19h0.85V283.3zM458.82 283.3V235.08h0.85V283.3zM459.31 283.3V216.36h0.85V283.3zM459.80 283.3V233.46h0.85V283.3zM460.28 283.3V217.39h0.85V283.3zM460.77 283.3V175.40h0.85V283.3zM461.26 283.3V215.41h0.85V283.3zM461.74 283.3V234.68h0.85V283.3zM462.23 283.3V233.88h0.85V283.3zM462.72 283.3V241.88h0.85V283.3zM463.21 283.3V232.12h0.85V283.3zM463.69 283.3V220.03h0.85V283.3zM464.18 283.3V223.29h0.85V283.3zM464.67 283.3V205.56h0.85V283.3zM465.15 283.3V232.08h0.85V283.3zM465.64 283.3V197.60h0.85V283.3zM466.13 283.3V212.34h0.85V283.3zM466.61 283.3V229.56h0.85V283.3zM467.10 283.3V206.78h0.85V283.3zM467.59 283.3V228.32h0.85V283.3zM468.07 283.3V206.95h0.85V283.3zM468.56 283.3V207.94h0.85V283.3zM469.05 283.3V224.08h0.85V283.3zM469.53 283.3V225.36h0.85V283.3zM470.02 283.3V237.68h0.85V283.3zM470.51 283.3V203.96h0.85V283.3zM470.99 283.3V212.29h0.85V283.3zM471.48 283.3V204.47h0.85V283.3zM471.97 283.3V222.94h0.85V283.3zM472.45 283.3V220.54h0.85V283.3zM472.94 283.3V239.93h0.85V283.3zM473.43 283.3V212.64h0.85V283.3zM473.92 283.3V217.71h0.85V283.3zM474.40 283.3V226.03h0.85V283.3zM474.89 283.3V219.49h0.85V283.3zM475.38 283.3V226.18h0.85V283.3zM475.86 283.3V212.45h0.85V283.3zM476.35 283.3V220.21h0.85V283.3zM476.84 283.3V226.25h0.85V283.3zM477.32 283.3V239.25h0.85V283.3zM477.81 283.3V211.58h0.85V283.3zM478.30 283.3V215.68h0.85V283.3zM478.78 283.3V225.44h0.85V283.3zM479.27 283.3V203.53h0.85V283.3zM479.76 283.3V214.13h0.85V283.3zM480.24 283.3V243.85h0.85V283.3zM480.73 283.3V215.50h0.85V283.3zM481.22 283.3V215.67h0.85V283.3zM481.70 283.3V235.07h0.85V283.3zM482.19 283.3V237.22h0.85V283.3zM482.68 283.3V208.68h0.85V283.3zM483.16 283.3V212.07h0.85V283.3zM483.65 283.3V223.30h0.85V283.3zM484.14 283.3V228.67h0.85V283.3zM484.63 283.3V215.89h0.85V283.3zM485.11 283.3V197.60h0.85V283.3zM485.60 283.3V210.41h0.85V283.3zM486.09 283.3V223.43h0.85V283.3zM486.57 283.3V219.44h0.85V283.3zM487.06 283.3V206.50h0.85V283.3zM487.55 283.3V226.04h0.85V283.3zM488.03 283.3V227.87h0.85V283.3zM488.52 283.3V228.66h0.85V283.3zM489.01 283.3V225.22h0.85V283.3zM489.49 283.3V229.26h0.85V283.3zM489.98 283.3V229.00h0.85V283.3zM490.47 283.3V208.60h0.85V283.3zM490.95 283.3V211.85h0.85V283.3zM491.44 283.3V221.47h0.85V283.3zM491.93 283.3V211.71h0.85V283.3zM492.41 283.3V214.67h0.85V283.3zM492.90 283.3V223.67h0.85V283.3zM493.39 283.3V195.60h0.85V283.3zM493.87 283.3V243.05h0.85V283.3zM494.36 283.3V228.99h0.85V283.3zM494.85 283.3V210.10h0.85V283.3zM495.34 283.3V193.00h0.85V283.3zM495.82 283.3V214.72h0.85V283.3zM496.31 283.3V217.15h0.85V283.3zM496.80 283.3V210.23h0.85V283.3zM497.28 283.3V219.82h0.85V283.3zM497.77 283.3V212.16h0.85V283.3zM498.26 283.3V216.57h0.85V283.3zM498.74 283.3V216.55h0.85V283.3zM499.23 283.3V213.32h0.85V283.3zM499.72 283.3V240.56h0.85V283.3zM500.20 283.3V226.32h0.85V283.3zM500.69 283.3V221.82h0.85V283.3zM501.18 283.3V235.80h0.85V283.3zM501.66 283.3V207.88h0.85V283.3zM502.15 283.3V227.50h0.85V283.3zM502.64 283.3V211.99h0.85V283.3zM503.12 283.3V203.06h0.85V283.3zM503.61 283.3V212.81h0.85V283.3zM504.10 283.3V197.60h0.85V283.3zM504.58 283.3V218.63h0.85V283.3zM505.07 283.3V232.45h0.85V283.3zM505.56 283.3V216.16h0.85V283.3zM506.05 283.3V229.52h0.85V283.3zM506.53 283.3V211.71h0.85V283.3zM507.02 283.3V237.75h0.85V283.3zM507.51 283.3V223.85h0.85V283.3zM507.99 283.3V211.70h0.85V283.3zM508.48 283.3V211.71h0.85V283.3zM508.97 283.3V230.86h0.85V283.3zM509.45 283.3V211.52h0.85V283.3zM509.94 283.3V195.60h0.85V283.3zM510.43 283.3V213.16h0.85V283.3zM510.91 283.3V225.18h0.85V283.3zM511.40 283.3V220.53h0.85V283.3zM511.89 283.3V219.76h0.85V283.3zM512.37 283.3V227.61h0.85V283.3zM512.86 283.3V228.49h0.85V283.3zM513.35 283.3V214.62h0.85V283.3zM513.83 283.3V237.57h0.85V283.3zM514.32 283.3V217.53h0.85V283.3zM514.81 283.3V211.64h0.85V283.3zM515.29 283.3V214.47h0.85V283.3zM515.78 283.3V220.96h0.85V283.3zM516.27 283.3V235.66h0.85V283.3zM516.76 283.3V193.00h0.85V283.3zM517.24 283.3V221.59h0.85V283.3zM517.73 283.3V239.81h0.85V283.3zM518.22 283.3V214.01h0.85V283.3zM518.70 283.3V217.28h0.85V283.3zM519.19 283.3V231.36h0.85V283.3zM519.68 283.3V193.00h0.85V283.3zM520.16 283.3V226.42h0.85V283.3zM520.65 283.3V210.73h0.85V283.3zM521.14 283.3V193.00h0.85V283.3zM521.62 283.3V216.94h0.85V283.3zM522.11 283.3V208.58h0.85V283.3zM522.60 283.3V218.37h0.85V283.3zM523.08 283.3V214.82h0.85V283.3zM523.57 283.3V220.30h0.85V283.3zM524.06 283.3V220.58h0.85V283.3zM524.54 283.3V202.44h0.85V283.3zM525.03 283.3V211.54h0.85V283.3zM525.52 283.3V215.01h0.85V283.3zM526.00 283.3V214.03h0.85V283.3zM526.49 283.3V201.00h0.85V283.3zM526.98 283.3V221.78h0.85V283.3zM527.47 283.3V216.24h0.85V283.3zM527.95 283.3V211.53h0.85V283.3zM528.44 283.3V211.38h0.85V283.3zM528.93 283.3V215.76h0.85V283.3zM529.41 283.3V211.57h0.85V283.3zM529.90 283.3V235.92h0.85V283.3zM530.39 283.3V193.00h0.85V283.3zM530.87 283.3V225.97h0.85V283.3zM531.36 283.3V212.56h0.85V283.3zM531.85 283.3V220.55h0.85V283.3zM532.33 283.3V215.11h0.85V283.3zM532.82 283.3V225.09h0.85V283.3zM533.31 283.3V215.50h0.85V283.3zM533.79 283.3V212.80h0.85V283.3zM534.28 283.3V229.81h0.85V283.3zM534.77 283.3V204.75h0.85V283.3zM535.25 283.3V224.32h0.85V283.3zM535.74 283.3V220.43h0.85V283.3zM536.23 283.3V212.01h0.85V283.3zM536.71 283.3V231.19h0.85V283.3zM537.20 283.3V230.13h0.85V283.3zM537.69 283.3V201.00h0.85V283.3zM538.18 283.3V237.06h0.85V283.3z" fill="#0072BD" stroke="none"/>
<path d="M40.1 283.3H539.1" stroke="#101820" stroke-width="1.1" opacity="0.6"/>
<g fill="none" stroke="#0072BD" stroke-width="1">
<circle cx="40.10" cy="31.41" r="3.1"/>
<circle cx="40.59" cy="31.41" r="3.1"/>
<circle cx="41.07" cy="31.41" r="3.1"/>
<circle cx="41.56" cy="31.41" r="3.1"/>
<circle cx="42.05" cy="31.41" r="3.1"/>
<circle cx="42.53" cy="31.41" r="3.1"/>
<circle cx="43.02" cy="31.41" r="3.1"/>
<circle cx="43.51" cy="31.41" r="3.1"/>
<circle cx="43.99" cy="31.41" r="3.1"/>
<circle cx="44.48" cy="31.41" r="3.1"/>
<circle cx="44.97" cy="31.41" r="3.1"/>
<circle cx="45.45" cy="31.41" r="3.1"/>
<circle cx="45.94" cy="31.41" r="3.1"/>
<circle cx="46.43" cy="31.41" r="3.1"/>
<circle cx="46.92" cy="31.41" r="3.1"/>
<circle cx="47.40" cy="31.41" r="3.1"/>
<circle cx="47.89" cy="31.41" r="3.1"/>
<circle cx="48.38" cy="31.41" r="3.1"/>
<circle cx="48.86" cy="31.41" r="3.1"/>
<circle cx="49.35" cy="31.41" r="3.1"/>
<circle cx="49.84" cy="31.41" r="3.1"/>
<circle cx="50.32" cy="31.41" r="3.1"/>
<circle cx="50.81" cy="31.41" r="3.1"/>
<circle cx="51.30" cy="31.41" r="3.1"/>
<circle cx="51.78" cy="31.41" r="3.1"/>
<circle cx="53.24" cy="31.41" r="3.1"/>
<circle cx="53.73" cy="31.41" r="3.1"/>
<circle cx="54.22" cy="31.41" r="3.1"/>
<circle cx="54.70" cy="31.41" r="3.1"/>
<circle cx="57.14" cy="31.41" r="3.1"/>
<circle cx="57.63" cy="31.41" r="3.1"/>
<circle cx="58.11" cy="31.41" r="3.1"/>
<circle cx="58.60" cy="31.41" r="3.1"/>
<circle cx="60.55" cy="31.41" r="3.1"/>
<circle cx="61.03" cy="31.41" r="3.1"/>
<circle cx="61.52" cy="31.41" r="3.1"/>
<circle cx="62.49" cy="31.41" r="3.1"/>
<circle cx="62.98" cy="31.41" r="3.1"/>
<circle cx="42.05" cy="283.30" r="3.1"/>
<circle cx="42.53" cy="283.30" r="3.1"/>
<circle cx="43.02" cy="283.30" r="3.1"/>
<circle cx="43.51" cy="283.30" r="3.1"/>
<circle cx="43.99" cy="283.30" r="3.1"/>
<circle cx="44.48" cy="283.30" r="3.1"/>
<circle cx="44.97" cy="283.30" r="3.1"/>
<circle cx="45.45" cy="283.30" r="3.1"/>
<circle cx="45.94" cy="283.30" r="3.1"/>
<circle cx="46.43" cy="283.30" r="3.1"/>
<circle cx="46.92" cy="283.30" r="3.1"/>
<circle cx="47.40" cy="283.30" r="3.1"/>
<circle cx="47.89" cy="283.30" r="3.1"/>
<circle cx="48.38" cy="283.30" r="3.1"/>
<circle cx="48.86" cy="283.30" r="3.1"/>
<circle cx="49.35" cy="283.30" r="3.1"/>
<circle cx="49.84" cy="283.30" r="3.1"/>
<circle cx="50.32" cy="283.30" r="3.1"/>
<circle cx="50.81" cy="283.30" r="3.1"/>
<circle cx="51.30" cy="283.30" r="3.1"/>
<circle cx="51.78" cy="283.30" r="3.1"/>
<circle cx="52.27" cy="283.30" r="3.1"/>
<circle cx="52.76" cy="283.30" r="3.1"/>
<circle cx="53.24" cy="283.30" r="3.1"/>
<circle cx="53.73" cy="283.30" r="3.1"/>
<circle cx="54.22" cy="283.30" r="3.1"/>
<circle cx="54.70" cy="283.30" r="3.1"/>
<circle cx="55.19" cy="283.30" r="3.1"/>
<circle cx="55.68" cy="283.30" r="3.1"/>
<circle cx="56.16" cy="283.30" r="3.1"/>
<circle cx="56.65" cy="283.30" r="3.1"/>
<circle cx="57.14" cy="283.30" r="3.1"/>
<circle cx="57.63" cy="283.30" r="3.1"/>
<circle cx="58.11" cy="283.30" r="3.1"/>
<circle cx="58.60" cy="283.30" r="3.1"/>
<circle cx="59.09" cy="283.30" r="3.1"/>
<circle cx="59.57" cy="283.30" r="3.1"/>
<circle cx="60.06" cy="283.30" r="3.1"/>
<circle cx="60.55" cy="283.30" r="3.1"/>
<circle cx="61.03" cy="283.30" r="3.1"/>
<circle cx="61.52" cy="283.30" r="3.1"/>
<circle cx="62.01" cy="283.30" r="3.1"/>
<circle cx="62.49" cy="283.30" r="3.1"/>
<circle cx="62.98" cy="283.30" r="3.1"/>
</g>
<g fill="none" stroke="#0072BD" stroke-width="1" stroke-opacity="0.8">
<circle cx="63.47" cy="213.55" r="3.1"/>
<circle cx="63.95" cy="211.99" r="3.1"/>
<circle cx="64.44" cy="207.70" r="3.1"/>
<circle cx="64.93" cy="207.78" r="3.1"/>
<circle cx="65.41" cy="209.68" r="3.1"/>
<circle cx="65.90" cy="219.26" r="3.1"/>
<circle cx="66.39" cy="218.80" r="3.1"/>
<circle cx="66.87" cy="222.21" r="3.1"/>
<circle cx="67.36" cy="208.88" r="3.1"/>
<circle cx="67.85" cy="233.83" r="3.1"/>
<circle cx="68.34" cy="228.55" r="3.1"/>
<circle cx="68.82" cy="209.84" r="3.1"/>
<circle cx="69.31" cy="226.81" r="3.1"/>
<circle cx="69.80" cy="185.60" r="3.1"/>
<circle cx="70.28" cy="236.22" r="3.1"/>
<circle cx="70.77" cy="222.79" r="3.1"/>
<circle cx="71.26" cy="207.84" r="3.1"/>
<circle cx="71.74" cy="229.69" r="3.1"/>
<circle cx="72.23" cy="205.48" r="3.1"/>
<circle cx="72.72" cy="215.79" r="3.1"/>
<circle cx="73.20" cy="227.70" r="3.1"/>
<circle cx="73.69" cy="217.99" r="3.1"/>
<circle cx="74.18" cy="213.15" r="3.1"/>
<circle cx="74.66" cy="218.29" r="3.1"/>
<circle cx="75.15" cy="228.90" r="3.1"/>
<circle cx="75.64" cy="195.60" r="3.1"/>
<circle cx="76.12" cy="217.55" r="3.1"/>
<circle cx="76.61" cy="236.98" r="3.1"/>
<circle cx="77.10" cy="201.00" r="3.1"/>
<circle cx="77.58" cy="227.91" r="3.1"/>
<circle cx="78.07" cy="234.48" r="3.1"/>
<circle cx="78.56" cy="212.31" r="3.1"/>
<circle cx="79.05" cy="215.46" r="3.1"/>
<circle cx="79.53" cy="211.66" r="3.1"/>
<circle cx="80.02" cy="221.50" r="3.1"/>
<circle cx="80.51" cy="235.15" r="3.1"/>
<circle cx="80.99" cy="203.30" r="3.1"/>
<circle cx="81.48" cy="223.07" r="3.1"/>
<circle cx="81.97" cy="225.41" r="3.1"/>
<circle cx="82.45" cy="211.15" r="3.1"/>
<circle cx="82.94" cy="219.07" r="3.1"/>
<circle cx="83.43" cy="211.78" r="3.1"/>
<circle cx="83.91" cy="208.36" r="3.1"/>
<circle cx="84.40" cy="225.91" r="3.1"/>
<circle cx="84.89" cy="225.38" r="3.1"/>
<circle cx="85.37" cy="203.78" r="3.1"/>
<circle cx="85.86" cy="225.85" r="3.1"/>
<circle cx="86.35" cy="221.34" r="3.1"/>
<circle cx="86.83" cy="220.65" r="3.1"/>
<circle cx="87.32" cy="219.98" r="3.1"/>
<circle cx="87.81" cy="211.92" r="3.1"/>
<circle cx="88.29" cy="224.26" r="3.1"/>
<circle cx="88.78" cy="228.88" r="3.1"/>
<circle cx="89.27" cy="220.19" r="3.1"/>
<circle cx="89.76" cy="230.29" r="3.1"/>
<circle cx="90.24" cy="215.58" r="3.1"/>
<circle cx="90.73" cy="238.58" r="3.1"/>
<circle cx="91.22" cy="219.49" r="3.1"/>
<circle cx="91.70" cy="221.34" r="3.1"/>
<circle cx="92.19" cy="237.66" r="3.1"/>
<circle cx="92.68" cy="214.33" r="3.1"/>
<circle cx="93.16" cy="220.83" r="3.1"/>
<circle cx="93.65" cy="215.41" r="3.1"/>
<circle cx="94.14" cy="235.76" r="3.1"/>
<circle cx="94.62" cy="201.00" r="3.1"/>
<circle cx="95.11" cy="219.95" r="3.1"/>
<circle cx="95.60" cy="214.33" r="3.1"/>
<circle cx="96.08" cy="214.51" r="3.1"/>
<circle cx="96.57" cy="223.49" r="3.1"/>
<circle cx="97.06" cy="217.88" r="3.1"/>
<circle cx="97.54" cy="217.78" r="3.1"/>
<circle cx="98.03" cy="211.83" r="3.1"/>
<circle cx="98.52" cy="220.64" r="3.1"/>
<circle cx="99.00" cy="220.56" r="3.1"/>
<circle cx="99.49" cy="239.01" r="3.1"/>
<circle cx="99.98" cy="213.82" r="3.1"/>
<circle cx="100.47" cy="221.00" r="3.1"/>
<circle cx="100.95" cy="216.19" r="3.1"/>
<circle cx="101.44" cy="217.47" r="3.1"/>
<circle cx="101.93" cy="232.27" r="3.1"/>
<circle cx="102.41" cy="223.63" r="3.1"/>
<circle cx="102.90" cy="222.04" r="3.1"/>
<circle cx="103.39" cy="216.61" r="3.1"/>
<circle cx="103.87" cy="212.05" r="3.1"/>
<circle cx="104.36" cy="201.00" r="3.1"/>
<circle cx="104.85" cy="227.56" r="3.1"/>
<circle cx="105.33" cy="220.15" r="3.1"/>
<circle cx="105.82" cy="233.20" r="3.1"/>
<circle cx="106.31" cy="230.52" r="3.1"/>
<circle cx="106.79" cy="229.24" r="3.1"/>
<circle cx="107.28" cy="240.06" r="3.1"/>
<circle cx="107.77" cy="218.58" r="3.1"/>
<circle cx="108.25" cy="193.00" r="3.1"/>
<circle cx="108.74" cy="210.64" r="3.1"/>
<circle cx="109.23" cy="209.51" r="3.1"/>
<circle cx="109.71" cy="182.60" r="3.1"/>
<circle cx="110.20" cy="213.06" r="3.1"/>
<circle cx="110.69" cy="203.46" r="3.1"/>
<circle cx="111.18" cy="214.43" r="3.1"/>
<circle cx="111.66" cy="224.64" r="3.1"/>
<circle cx="112.15" cy="232.38" r="3.1"/>
<circle cx="112.64" cy="216.89" r="3.1"/>
<circle cx="113.12" cy="211.74" r="3.1"/>
<circle cx="113.61" cy="208.66" r="3.1"/>
<circle cx="114.10" cy="215.02" r="3.1"/>
<circle cx="114.58" cy="215.73" r="3.1"/>
<circle cx="115.07" cy="217.10" r="3.1"/>
<circle cx="115.56" cy="207.80" r="3.1"/>
<circle cx="116.04" cy="222.06" r="3.1"/>
<circle cx="116.53" cy="216.25" r="3.1"/>
<circle cx="117.02" cy="211.24" r="3.1"/>
<circle cx="117.50" cy="185.60" r="3.1"/>
<circle cx="117.99" cy="214.52" r="3.1"/>
<circle cx="118.48" cy="230.22" r="3.1"/>
<circle cx="118.96" cy="219.23" r="3.1"/>
<circle cx="119.45" cy="206.82" r="3.1"/>
<circle cx="119.94" cy="210.26" r="3.1"/>
<circle cx="120.42" cy="197.60" r="3.1"/>
<circle cx="120.91" cy="214.11" r="3.1"/>
<circle cx="121.40" cy="222.82" r="3.1"/>
<circle cx="121.89" cy="204.87" r="3.1"/>
<circle cx="122.37" cy="220.24" r="3.1"/>
<circle cx="122.86" cy="215.04" r="3.1"/>
<circle cx="123.35" cy="216.85" r="3.1"/>
<circle cx="123.83" cy="230.12" r="3.1"/>
<circle cx="124.32" cy="214.25" r="3.1"/>
<circle cx="124.81" cy="234.97" r="3.1"/>
<circle cx="125.29" cy="210.56" r="3.1"/>
<circle cx="125.78" cy="201.00" r="3.1"/>
<circle cx="126.27" cy="215.97" r="3.1"/>
<circle cx="126.75" cy="223.20" r="3.1"/>
<circle cx="127.24" cy="214.68" r="3.1"/>
<circle cx="127.73" cy="223.82" r="3.1"/>
<circle cx="128.21" cy="211.53" r="3.1"/>
<circle cx="128.70" cy="214.49" r="3.1"/>
<circle cx="129.19" cy="221.70" r="3.1"/>
<circle cx="129.67" cy="214.17" r="3.1"/>
<circle cx="130.16" cy="221.53" r="3.1"/>
<circle cx="130.65" cy="208.91" r="3.1"/>
<circle cx="131.13" cy="237.66" r="3.1"/>
<circle cx="131.62" cy="224.71" r="3.1"/>
<circle cx="132.11" cy="234.68" r="3.1"/>
<circle cx="132.60" cy="211.85" r="3.1"/>
<circle cx="133.08" cy="224.04" r="3.1"/>
<circle cx="133.57" cy="219.74" r="3.1"/>
<circle cx="134.06" cy="226.67" r="3.1"/>
<circle cx="134.54" cy="215.83" r="3.1"/>
<circle cx="135.03" cy="201.00" r="3.1"/>
<circle cx="135.52" cy="216.68" r="3.1"/>
<circle cx="136.00" cy="203.90" r="3.1"/>
<circle cx="136.49" cy="220.75" r="3.1"/>
<circle cx="136.98" cy="222.55" r="3.1"/>
<circle cx="137.46" cy="221.71" r="3.1"/>
<circle cx="137.95" cy="223.70" r="3.1"/>
<circle cx="138.44" cy="224.78" r="3.1"/>
<circle cx="138.92" cy="222.61" r="3.1"/>
<circle cx="139.41" cy="228.28" r="3.1"/>
<circle cx="139.90" cy="236.35" r="3.1"/>
<circle cx="140.38" cy="219.83" r="3.1"/>
<circle cx="140.87" cy="210.39" r="3.1"/>
<circle cx="141.36" cy="225.97" r="3.1"/>
<circle cx="141.84" cy="209.25" r="3.1"/>
<circle cx="142.33" cy="212.47" r="3.1"/>
<circle cx="142.82" cy="228.94" r="3.1"/>
<circle cx="143.31" cy="203.36" r="3.1"/>
<circle cx="143.79" cy="220.08" r="3.1"/>
<circle cx="144.28" cy="203.00" r="3.1"/>
<circle cx="144.77" cy="222.54" r="3.1"/>
<circle cx="145.25" cy="215.15" r="3.1"/>
<circle cx="145.74" cy="206.84" r="3.1"/>
<circle cx="146.23" cy="204.05" r="3.1"/>
<circle cx="146.71" cy="223.80" r="3.1"/>
<circle cx="147.20" cy="228.50" r="3.1"/>
<circle cx="147.69" cy="207.15" r="3.1"/>
<circle cx="148.17" cy="216.11" r="3.1"/>
<circle cx="148.66" cy="214.87" r="3.1"/>
<circle cx="149.15" cy="219.16" r="3.1"/>
<circle cx="149.63" cy="225.92" r="3.1"/>
<circle cx="150.12" cy="228.49" r="3.1"/>
<circle cx="150.61" cy="214.79" r="3.1"/>
<circle cx="151.09" cy="222.24" r="3.1"/>
<circle cx="151.58" cy="218.75" r="3.1"/>
<circle cx="152.07" cy="196.00" r="3.1"/>
<circle cx="152.55" cy="214.14" r="3.1"/>
<circle cx="153.04" cy="215.27" r="3.1"/>
<circle cx="153.53" cy="190.60" r="3.1"/>
<circle cx="154.02" cy="204.88" r="3.1"/>
<circle cx="154.50" cy="226.66" r="3.1"/>
<circle cx="154.99" cy="228.04" r="3.1"/>
<circle cx="155.48" cy="226.29" r="3.1"/>
<circle cx="155.96" cy="214.98" r="3.1"/>
<circle cx="156.45" cy="225.65" r="3.1"/>
<circle cx="156.94" cy="212.42" r="3.1"/>
<circle cx="157.42" cy="216.13" r="3.1"/>
<circle cx="157.91" cy="190.60" r="3.1"/>
<circle cx="158.40" cy="214.29" r="3.1"/>
<circle cx="158.88" cy="216.97" r="3.1"/>
<circle cx="159.37" cy="214.83" r="3.1"/>
<circle cx="159.86" cy="231.09" r="3.1"/>
<circle cx="160.34" cy="209.17" r="3.1"/>
<circle cx="160.83" cy="207.04" r="3.1"/>
<circle cx="161.32" cy="223.19" r="3.1"/>
<circle cx="161.80" cy="221.67" r="3.1"/>
<circle cx="162.29" cy="211.96" r="3.1"/>
<circle cx="162.78" cy="219.30" r="3.1"/>
<circle cx="163.26" cy="221.42" r="3.1"/>
<circle cx="163.75" cy="212.09" r="3.1"/>
<circle cx="164.24" cy="221.75" r="3.1"/>
<circle cx="164.72" cy="221.72" r="3.1"/>
<circle cx="165.21" cy="217.10" r="3.1"/>
<circle cx="165.70" cy="224.24" r="3.1"/>
<circle cx="166.19" cy="235.55" r="3.1"/>
<circle cx="166.67" cy="204.41" r="3.1"/>
<circle cx="167.16" cy="226.80" r="3.1"/>
<circle cx="167.65" cy="228.30" r="3.1"/>
<circle cx="168.13" cy="218.94" r="3.1"/>
<circle cx="168.62" cy="219.36" r="3.1"/>
<circle cx="169.11" cy="222.89" r="3.1"/>
<circle cx="169.59" cy="222.60" r="3.1"/>
<circle cx="170.08" cy="188.00" r="3.1"/>
<circle cx="170.57" cy="193.60" r="3.1"/>
<circle cx="171.05" cy="222.48" r="3.1"/>
<circle cx="171.54" cy="219.86" r="3.1"/>
<circle cx="172.03" cy="232.72" r="3.1"/>
<circle cx="172.51" cy="208.60" r="3.1"/>
<circle cx="173.00" cy="240.94" r="3.1"/>
<circle cx="173.49" cy="222.55" r="3.1"/>
<circle cx="173.97" cy="233.24" r="3.1"/>
<circle cx="174.46" cy="220.94" r="3.1"/>
<circle cx="174.95" cy="214.95" r="3.1"/>
<circle cx="175.43" cy="219.11" r="3.1"/>
<circle cx="175.92" cy="215.39" r="3.1"/>
<circle cx="176.41" cy="208.07" r="3.1"/>
<circle cx="176.90" cy="219.77" r="3.1"/>
<circle cx="177.38" cy="178.00" r="3.1"/>
<circle cx="177.87" cy="225.40" r="3.1"/>
<circle cx="178.36" cy="244.34" r="3.1"/>
<circle cx="178.84" cy="221.82" r="3.1"/>
<circle cx="179.33" cy="185.60" r="3.1"/>
<circle cx="179.82" cy="221.40" r="3.1"/>
<circle cx="180.30" cy="221.12" r="3.1"/>
<circle cx="180.79" cy="202.69" r="3.1"/>
<circle cx="181.28" cy="213.93" r="3.1"/>
<circle cx="181.76" cy="207.32" r="3.1"/>
<circle cx="182.25" cy="238.00" r="3.1"/>
<circle cx="182.74" cy="219.84" r="3.1"/>
<circle cx="183.22" cy="197.60" r="3.1"/>
<circle cx="183.71" cy="211.45" r="3.1"/>
<circle cx="184.20" cy="222.47" r="3.1"/>
<circle cx="184.68" cy="212.40" r="3.1"/>
<circle cx="185.17" cy="211.83" r="3.1"/>
<circle cx="185.66" cy="204.66" r="3.1"/>
<circle cx="186.14" cy="230.04" r="3.1"/>
<circle cx="186.63" cy="209.58" r="3.1"/>
<circle cx="187.12" cy="212.57" r="3.1"/>
<circle cx="187.61" cy="224.50" r="3.1"/>
<circle cx="188.09" cy="197.60" r="3.1"/>
<circle cx="188.58" cy="211.88" r="3.1"/>
<circle cx="189.07" cy="234.89" r="3.1"/>
<circle cx="189.55" cy="216.11" r="3.1"/>
<circle cx="190.04" cy="218.70" r="3.1"/>
<circle cx="190.53" cy="206.57" r="3.1"/>
<circle cx="191.01" cy="217.83" r="3.1"/>
<circle cx="191.50" cy="210.87" r="3.1"/>
<circle cx="191.99" cy="228.46" r="3.1"/>
<circle cx="192.47" cy="190.60" r="3.1"/>
<circle cx="192.96" cy="213.56" r="3.1"/>
<circle cx="193.45" cy="233.52" r="3.1"/>
<circle cx="193.93" cy="232.85" r="3.1"/>
<circle cx="194.42" cy="211.28" r="3.1"/>
<circle cx="194.91" cy="216.17" r="3.1"/>
<circle cx="195.39" cy="211.42" r="3.1"/>
<circle cx="195.88" cy="238.75" r="3.1"/>
<circle cx="196.37" cy="239.07" r="3.1"/>
<circle cx="196.85" cy="219.37" r="3.1"/>
<circle cx="197.34" cy="210.00" r="3.1"/>
<circle cx="197.83" cy="197.60" r="3.1"/>
<circle cx="198.32" cy="214.70" r="3.1"/>
<circle cx="198.80" cy="229.66" r="3.1"/>
<circle cx="199.29" cy="206.16" r="3.1"/>
<circle cx="199.78" cy="225.40" r="3.1"/>
<circle cx="200.26" cy="217.83" r="3.1"/>
<circle cx="200.75" cy="221.34" r="3.1"/>
<circle cx="201.24" cy="220.36" r="3.1"/>
<circle cx="201.72" cy="216.77" r="3.1"/>
<circle cx="202.21" cy="210.83" r="3.1"/>
<circle cx="202.70" cy="212.16" r="3.1"/>
<circle cx="203.18" cy="225.02" r="3.1"/>
<circle cx="203.67" cy="230.26" r="3.1"/>
<circle cx="204.16" cy="196.00" r="3.1"/>
<circle cx="204.64" cy="213.89" r="3.1"/>
<circle cx="205.13" cy="222.66" r="3.1"/>
<circle cx="205.62" cy="228.25" r="3.1"/>
<circle cx="206.10" cy="238.46" r="3.1"/>
<circle cx="206.59" cy="215.42" r="3.1"/>
<circle cx="207.08" cy="185.60" r="3.1"/>
<circle cx="207.56" cy="229.68" r="3.1"/>
<circle cx="208.05" cy="178.00" r="3.1"/>
<circle cx="208.54" cy="213.03" r="3.1"/>
<circle cx="209.03" cy="214.65" r="3.1"/>
<circle cx="209.51" cy="202.89" r="3.1"/>
<circle cx="210.00" cy="213.73" r="3.1"/>
<circle cx="210.49" cy="234.93" r="3.1"/>
<circle cx="210.97" cy="234.18" r="3.1"/>
<circle cx="211.46" cy="211.38" r="3.1"/>
<circle cx="211.95" cy="236.76" r="3.1"/>
<circle cx="212.43" cy="225.46" r="3.1"/>
<circle cx="212.92" cy="188.60" r="3.1"/>
<circle cx="213.41" cy="206.48" r="3.1"/>
<circle cx="213.89" cy="203.88" r="3.1"/>
<circle cx="214.38" cy="234.72" r="3.1"/>
<circle cx="214.87" cy="225.98" r="3.1"/>
<circle cx="215.35" cy="227.48" r="3.1"/>
<circle cx="215.84" cy="205.95" r="3.1"/>
<circle cx="216.33" cy="230.63" r="3.1"/>
<circle cx="216.81" cy="197.60" r="3.1"/>
<circle cx="217.30" cy="210.57" r="3.1"/>
<circle cx="217.79" cy="207.62" r="3.1"/>
<circle cx="218.27" cy="205.78" r="3.1"/>
<circle cx="218.76" cy="220.18" r="3.1"/>
<circle cx="219.25" cy="212.55" r="3.1"/>
<circle cx="219.74" cy="216.18" r="3.1"/>
<circle cx="220.22" cy="219.23" r="3.1"/>
<circle cx="220.71" cy="227.60" r="3.1"/>
<circle cx="221.20" cy="213.07" r="3.1"/>
<circle cx="221.68" cy="208.48" r="3.1"/>
<circle cx="222.17" cy="213.35" r="3.1"/>
<circle cx="222.66" cy="207.05" r="3.1"/>
<circle cx="223.14" cy="226.47" r="3.1"/>
<circle cx="223.63" cy="222.88" r="3.1"/>
<circle cx="224.12" cy="219.35" r="3.1"/>
<circle cx="224.60" cy="217.09" r="3.1"/>
<circle cx="225.09" cy="206.78" r="3.1"/>
<circle cx="225.58" cy="225.36" r="3.1"/>
<circle cx="226.06" cy="239.35" r="3.1"/>
<circle cx="226.55" cy="231.44" r="3.1"/>
<circle cx="227.04" cy="201.00" r="3.1"/>
<circle cx="227.52" cy="229.03" r="3.1"/>
<circle cx="228.01" cy="227.42" r="3.1"/>
<circle cx="228.50" cy="204.06" r="3.1"/>
<circle cx="228.98" cy="219.61" r="3.1"/>
<circle cx="229.47" cy="226.10" r="3.1"/>
<circle cx="229.96" cy="210.37" r="3.1"/>
<circle cx="230.45" cy="228.96" r="3.1"/>
<circle cx="230.93" cy="217.06" r="3.1"/>
<circle cx="231.42" cy="211.76" r="3.1"/>
<circle cx="231.91" cy="208.42" r="3.1"/>
<circle cx="232.39" cy="216.62" r="3.1"/>
<circle cx="232.88" cy="229.60" r="3.1"/>
<circle cx="233.37" cy="229.50" r="3.1"/>
<circle cx="233.85" cy="210.88" r="3.1"/>
<circle cx="234.34" cy="193.00" r="3.1"/>
<circle cx="234.83" cy="205.70" r="3.1"/>
<circle cx="235.31" cy="231.40" r="3.1"/>
<circle cx="235.80" cy="213.31" r="3.1"/>
<circle cx="236.29" cy="212.35" r="3.1"/>
<circle cx="236.77" cy="213.30" r="3.1"/>
<circle cx="237.26" cy="216.75" r="3.1"/>
<circle cx="237.75" cy="223.71" r="3.1"/>
<circle cx="238.23" cy="219.43" r="3.1"/>
<circle cx="238.72" cy="227.30" r="3.1"/>
<circle cx="239.21" cy="218.60" r="3.1"/>
<circle cx="239.69" cy="236.81" r="3.1"/>
<circle cx="240.18" cy="185.60" r="3.1"/>
<circle cx="240.67" cy="209.59" r="3.1"/>
<circle cx="241.16" cy="232.40" r="3.1"/>
<circle cx="241.64" cy="213.13" r="3.1"/>
<circle cx="242.13" cy="234.40" r="3.1"/>
<circle cx="242.62" cy="190.60" r="3.1"/>
<circle cx="243.10" cy="222.87" r="3.1"/>
<circle cx="243.59" cy="214.26" r="3.1"/>
<circle cx="244.08" cy="221.04" r="3.1"/>
<circle cx="244.56" cy="231.04" r="3.1"/>
<circle cx="245.05" cy="202.60" r="3.1"/>
<circle cx="245.54" cy="229.28" r="3.1"/>
<circle cx="246.02" cy="213.74" r="3.1"/>
<circle cx="246.51" cy="234.45" r="3.1"/>
<circle cx="247.00" cy="224.14" r="3.1"/>
<circle cx="247.48" cy="203.20" r="3.1"/>
<circle cx="247.97" cy="210.78" r="3.1"/>
<circle cx="248.46" cy="215.50" r="3.1"/>
<circle cx="248.94" cy="211.39" r="3.1"/>
<circle cx="249.43" cy="226.94" r="3.1"/>
<circle cx="249.92" cy="236.74" r="3.1"/>
<circle cx="250.40" cy="213.11" r="3.1"/>
<circle cx="250.89" cy="238.27" r="3.1"/>
<circle cx="251.38" cy="216.61" r="3.1"/>
<circle cx="251.87" cy="203.79" r="3.1"/>
<circle cx="252.35" cy="217.66" r="3.1"/>
<circle cx="252.84" cy="222.80" r="3.1"/>
<circle cx="253.33" cy="217.43" r="3.1"/>
<circle cx="253.81" cy="223.53" r="3.1"/>
<circle cx="254.30" cy="201.00" r="3.1"/>
<circle cx="254.79" cy="232.53" r="3.1"/>
<circle cx="255.27" cy="211.84" r="3.1"/>
<circle cx="255.76" cy="223.41" r="3.1"/>
<circle cx="256.25" cy="193.00" r="3.1"/>
<circle cx="256.73" cy="233.33" r="3.1"/>
<circle cx="257.22" cy="221.52" r="3.1"/>
<circle cx="257.71" cy="221.33" r="3.1"/>
<circle cx="258.19" cy="207.16" r="3.1"/>
<circle cx="258.68" cy="217.23" r="3.1"/>
<circle cx="259.17" cy="211.37" r="3.1"/>
<circle cx="259.65" cy="223.18" r="3.1"/>
<circle cx="260.14" cy="215.17" r="3.1"/>
<circle cx="260.63" cy="214.08" r="3.1"/>
<circle cx="261.11" cy="228.07" r="3.1"/>
<circle cx="261.60" cy="228.31" r="3.1"/>
<circle cx="262.09" cy="203.41" r="3.1"/>
<circle cx="262.58" cy="223.49" r="3.1"/>
<circle cx="263.06" cy="213.04" r="3.1"/>
<circle cx="263.55" cy="226.48" r="3.1"/>
<circle cx="264.04" cy="227.21" r="3.1"/>
<circle cx="264.52" cy="228.90" r="3.1"/>
<circle cx="265.01" cy="222.06" r="3.1"/>
<circle cx="265.50" cy="227.67" r="3.1"/>
<circle cx="265.98" cy="207.43" r="3.1"/>
<circle cx="266.47" cy="218.81" r="3.1"/>
<circle cx="266.96" cy="180.00" r="3.1"/>
<circle cx="267.44" cy="221.63" r="3.1"/>
<circle cx="267.93" cy="213.14" r="3.1"/>
<circle cx="268.42" cy="212.06" r="3.1"/>
<circle cx="268.90" cy="197.60" r="3.1"/>
<circle cx="269.39" cy="216.07" r="3.1"/>
<circle cx="269.88" cy="217.17" r="3.1"/>
<circle cx="270.36" cy="211.90" r="3.1"/>
<circle cx="270.85" cy="220.12" r="3.1"/>
<circle cx="271.34" cy="229.05" r="3.1"/>
<circle cx="271.82" cy="229.76" r="3.1"/>
<circle cx="272.31" cy="213.15" r="3.1"/>
<circle cx="272.80" cy="227.38" r="3.1"/>
<circle cx="273.29" cy="225.23" r="3.1"/>
<circle cx="273.77" cy="238.79" r="3.1"/>
<circle cx="274.26" cy="228.48" r="3.1"/>
<circle cx="274.75" cy="230.05" r="3.1"/>
<circle cx="275.23" cy="218.66" r="3.1"/>
<circle cx="275.72" cy="236.78" r="3.1"/>
<circle cx="276.21" cy="193.00" r="3.1"/>
<circle cx="276.69" cy="228.65" r="3.1"/>
<circle cx="277.18" cy="220.07" r="3.1"/>
<circle cx="277.67" cy="231.24" r="3.1"/>
<circle cx="278.15" cy="212.77" r="3.1"/>
<circle cx="278.64" cy="182.60" r="3.1"/>
<circle cx="279.13" cy="214.24" r="3.1"/>
<circle cx="279.61" cy="216.15" r="3.1"/>
<circle cx="280.10" cy="232.12" r="3.1"/>
<circle cx="280.59" cy="234.60" r="3.1"/>
<circle cx="281.07" cy="195.60" r="3.1"/>
<circle cx="281.56" cy="209.20" r="3.1"/>
<circle cx="282.05" cy="207.84" r="3.1"/>
<circle cx="282.53" cy="226.32" r="3.1"/>
<circle cx="283.02" cy="215.66" r="3.1"/>
<circle cx="283.51" cy="201.00" r="3.1"/>
<circle cx="284.00" cy="215.19" r="3.1"/>
<circle cx="284.48" cy="215.42" r="3.1"/>
<circle cx="284.97" cy="219.36" r="3.1"/>
<circle cx="285.46" cy="214.29" r="3.1"/>
<circle cx="285.94" cy="237.98" r="3.1"/>
<circle cx="286.43" cy="203.92" r="3.1"/>
<circle cx="286.92" cy="222.79" r="3.1"/>
<circle cx="287.40" cy="212.39" r="3.1"/>
<circle cx="287.89" cy="204.98" r="3.1"/>
<circle cx="288.38" cy="225.31" r="3.1"/>
<circle cx="288.86" cy="211.26" r="3.1"/>
<circle cx="289.35" cy="214.06" r="3.1"/>
<circle cx="289.84" cy="214.48" r="3.1"/>
<circle cx="290.32" cy="195.60" r="3.1"/>
<circle cx="290.81" cy="223.01" r="3.1"/>
<circle cx="291.30" cy="217.44" r="3.1"/>
<circle cx="291.78" cy="218.56" r="3.1"/>
<circle cx="292.27" cy="214.57" r="3.1"/>
<circle cx="292.76" cy="234.91" r="3.1"/>
<circle cx="293.24" cy="232.41" r="3.1"/>
<circle cx="293.73" cy="216.92" r="3.1"/>
<circle cx="294.22" cy="217.61" r="3.1"/>
<circle cx="294.70" cy="214.20" r="3.1"/>
<circle cx="295.19" cy="207.14" r="3.1"/>
<circle cx="295.68" cy="214.81" r="3.1"/>
<circle cx="296.17" cy="201.00" r="3.1"/>
<circle cx="296.65" cy="203.86" r="3.1"/>
<circle cx="297.14" cy="231.20" r="3.1"/>
<circle cx="297.63" cy="237.78" r="3.1"/>
<circle cx="298.11" cy="205.78" r="3.1"/>
<circle cx="298.60" cy="206.04" r="3.1"/>
<circle cx="299.09" cy="235.05" r="3.1"/>
<circle cx="299.57" cy="211.93" r="3.1"/>
<circle cx="300.06" cy="223.29" r="3.1"/>
<circle cx="300.55" cy="229.10" r="3.1"/>
<circle cx="301.03" cy="213.56" r="3.1"/>
<circle cx="301.52" cy="232.65" r="3.1"/>
<circle cx="302.01" cy="215.98" r="3.1"/>
<circle cx="302.49" cy="229.49" r="3.1"/>
<circle cx="302.98" cy="221.94" r="3.1"/>
<circle cx="303.47" cy="225.89" r="3.1"/>
<circle cx="303.95" cy="214.36" r="3.1"/>
<circle cx="304.44" cy="212.55" r="3.1"/>
<circle cx="304.93" cy="188.60" r="3.1"/>
<circle cx="305.41" cy="219.24" r="3.1"/>
<circle cx="305.90" cy="231.11" r="3.1"/>
<circle cx="306.39" cy="236.10" r="3.1"/>
<circle cx="306.88" cy="226.08" r="3.1"/>
<circle cx="307.36" cy="234.10" r="3.1"/>
<circle cx="307.85" cy="221.40" r="3.1"/>
<circle cx="308.34" cy="204.48" r="3.1"/>
<circle cx="308.82" cy="226.23" r="3.1"/>
<circle cx="309.31" cy="218.92" r="3.1"/>
<circle cx="309.80" cy="233.90" r="3.1"/>
<circle cx="310.28" cy="234.37" r="3.1"/>
<circle cx="310.77" cy="206.43" r="3.1"/>
<circle cx="311.26" cy="204.15" r="3.1"/>
<circle cx="311.74" cy="215.90" r="3.1"/>
<circle cx="312.23" cy="208.13" r="3.1"/>
<circle cx="312.72" cy="211.68" r="3.1"/>
<circle cx="313.20" cy="205.71" r="3.1"/>
<circle cx="313.69" cy="220.82" r="3.1"/>
<circle cx="314.18" cy="202.67" r="3.1"/>
<circle cx="314.66" cy="221.67" r="3.1"/>
<circle cx="315.15" cy="205.00" r="3.1"/>
<circle cx="315.64" cy="220.57" r="3.1"/>
<circle cx="316.12" cy="218.89" r="3.1"/>
<circle cx="316.61" cy="213.59" r="3.1"/>
<circle cx="317.10" cy="203.00" r="3.1"/>
<circle cx="317.59" cy="224.82" r="3.1"/>
<circle cx="318.07" cy="205.65" r="3.1"/>
<circle cx="318.56" cy="208.85" r="3.1"/>
<circle cx="319.05" cy="214.57" r="3.1"/>
<circle cx="319.53" cy="230.35" r="3.1"/>
<circle cx="320.02" cy="224.17" r="3.1"/>
<circle cx="320.51" cy="226.63" r="3.1"/>
<circle cx="320.99" cy="230.10" r="3.1"/>
<circle cx="321.48" cy="217.04" r="3.1"/>
<circle cx="321.97" cy="197.60" r="3.1"/>
<circle cx="322.45" cy="218.45" r="3.1"/>
<circle cx="322.94" cy="238.97" r="3.1"/>
<circle cx="323.43" cy="238.25" r="3.1"/>
<circle cx="323.91" cy="214.56" r="3.1"/>
<circle cx="324.40" cy="227.86" r="3.1"/>
<circle cx="324.89" cy="221.88" r="3.1"/>
<circle cx="325.37" cy="221.21" r="3.1"/>
<circle cx="325.86" cy="219.59" r="3.1"/>
<circle cx="326.35" cy="223.61" r="3.1"/>
<circle cx="326.83" cy="224.59" r="3.1"/>
<circle cx="327.32" cy="213.86" r="3.1"/>
<circle cx="327.81" cy="226.38" r="3.1"/>
<circle cx="328.30" cy="221.74" r="3.1"/>
<circle cx="328.78" cy="240.24" r="3.1"/>
<circle cx="329.27" cy="219.76" r="3.1"/>
<circle cx="329.76" cy="214.60" r="3.1"/>
<circle cx="330.24" cy="204.18" r="3.1"/>
<circle cx="330.73" cy="238.52" r="3.1"/>
<circle cx="331.22" cy="231.68" r="3.1"/>
<circle cx="331.70" cy="219.40" r="3.1"/>
<circle cx="332.19" cy="215.88" r="3.1"/>
<circle cx="332.68" cy="231.34" r="3.1"/>
<circle cx="333.16" cy="202.38" r="3.1"/>
<circle cx="333.65" cy="205.82" r="3.1"/>
<circle cx="334.14" cy="195.60" r="3.1"/>
<circle cx="334.62" cy="223.72" r="3.1"/>
<circle cx="335.11" cy="222.00" r="3.1"/>
<circle cx="335.60" cy="228.65" r="3.1"/>
<circle cx="336.08" cy="205.00" r="3.1"/>
<circle cx="336.57" cy="211.30" r="3.1"/>
<circle cx="337.06" cy="209.89" r="3.1"/>
<circle cx="337.54" cy="211.30" r="3.1"/>
<circle cx="338.03" cy="242.07" r="3.1"/>
<circle cx="338.52" cy="218.78" r="3.1"/>
<circle cx="339.01" cy="223.66" r="3.1"/>
<circle cx="339.49" cy="222.33" r="3.1"/>
<circle cx="339.98" cy="212.83" r="3.1"/>
<circle cx="340.47" cy="230.25" r="3.1"/>
<circle cx="340.95" cy="221.28" r="3.1"/>
<circle cx="341.44" cy="219.08" r="3.1"/>
<circle cx="341.93" cy="220.19" r="3.1"/>
<circle cx="342.41" cy="224.33" r="3.1"/>
<circle cx="342.90" cy="178.00" r="3.1"/>
<circle cx="343.39" cy="190.60" r="3.1"/>
<circle cx="343.87" cy="235.48" r="3.1"/>
<circle cx="344.36" cy="230.64" r="3.1"/>
<circle cx="344.85" cy="207.25" r="3.1"/>
<circle cx="345.33" cy="212.68" r="3.1"/>
<circle cx="345.82" cy="211.53" r="3.1"/>
<circle cx="346.31" cy="219.29" r="3.1"/>
<circle cx="346.79" cy="217.69" r="3.1"/>
<circle cx="347.28" cy="203.03" r="3.1"/>
<circle cx="347.77" cy="203.00" r="3.1"/>
<circle cx="348.25" cy="216.86" r="3.1"/>
<circle cx="348.74" cy="209.69" r="3.1"/>
<circle cx="349.23" cy="203.00" r="3.1"/>
<circle cx="349.72" cy="203.58" r="3.1"/>
<circle cx="350.20" cy="217.45" r="3.1"/>
<circle cx="350.69" cy="215.36" r="3.1"/>
<circle cx="351.18" cy="230.46" r="3.1"/>
<circle cx="351.66" cy="217.85" r="3.1"/>
<circle cx="352.15" cy="214.56" r="3.1"/>
<circle cx="352.64" cy="183.00" r="3.1"/>
<circle cx="353.12" cy="215.26" r="3.1"/>
<circle cx="353.61" cy="215.20" r="3.1"/>
<circle cx="354.10" cy="204.94" r="3.1"/>
<circle cx="354.58" cy="217.15" r="3.1"/>
<circle cx="355.07" cy="224.64" r="3.1"/>
<circle cx="355.56" cy="217.28" r="3.1"/>
<circle cx="356.04" cy="241.41" r="3.1"/>
<circle cx="356.53" cy="213.30" r="3.1"/>
<circle cx="357.02" cy="219.80" r="3.1"/>
<circle cx="357.50" cy="210.96" r="3.1"/>
<circle cx="357.99" cy="236.94" r="3.1"/>
<circle cx="358.48" cy="233.34" r="3.1"/>
<circle cx="358.96" cy="231.64" r="3.1"/>
<circle cx="359.45" cy="204.88" r="3.1"/>
<circle cx="359.94" cy="213.30" r="3.1"/>
<circle cx="360.43" cy="214.31" r="3.1"/>
<circle cx="360.91" cy="230.27" r="3.1"/>
<circle cx="361.40" cy="222.40" r="3.1"/>
<circle cx="361.89" cy="215.57" r="3.1"/>
<circle cx="362.37" cy="222.54" r="3.1"/>
<circle cx="362.86" cy="222.29" r="3.1"/>
<circle cx="363.35" cy="205.05" r="3.1"/>
<circle cx="363.83" cy="228.36" r="3.1"/>
<circle cx="364.32" cy="197.60" r="3.1"/>
<circle cx="364.81" cy="214.37" r="3.1"/>
<circle cx="365.29" cy="223.69" r="3.1"/>
<circle cx="365.78" cy="222.22" r="3.1"/>
<circle cx="366.27" cy="209.42" r="3.1"/>
<circle cx="366.75" cy="210.87" r="3.1"/>
<circle cx="367.24" cy="211.73" r="3.1"/>
<circle cx="367.73" cy="223.09" r="3.1"/>
<circle cx="368.21" cy="226.08" r="3.1"/>
<circle cx="368.70" cy="207.13" r="3.1"/>
<circle cx="369.19" cy="214.63" r="3.1"/>
<circle cx="369.67" cy="214.89" r="3.1"/>
<circle cx="370.16" cy="206.38" r="3.1"/>
<circle cx="370.65" cy="211.26" r="3.1"/>
<circle cx="371.14" cy="238.89" r="3.1"/>
<circle cx="371.62" cy="239.42" r="3.1"/>
<circle cx="372.11" cy="211.41" r="3.1"/>
<circle cx="372.60" cy="213.01" r="3.1"/>
<circle cx="373.08" cy="188.00" r="3.1"/>
<circle cx="373.57" cy="237.91" r="3.1"/>
<circle cx="374.06" cy="221.72" r="3.1"/>
<circle cx="374.54" cy="211.60" r="3.1"/>
<circle cx="375.03" cy="207.70" r="3.1"/>
<circle cx="375.52" cy="210.47" r="3.1"/>
<circle cx="376.00" cy="213.05" r="3.1"/>
<circle cx="376.49" cy="219.84" r="3.1"/>
<circle cx="376.98" cy="223.46" r="3.1"/>
<circle cx="377.46" cy="240.71" r="3.1"/>
<circle cx="377.95" cy="227.55" r="3.1"/>
<circle cx="378.44" cy="214.15" r="3.1"/>
<circle cx="378.92" cy="224.19" r="3.1"/>
<circle cx="379.41" cy="212.32" r="3.1"/>
<circle cx="379.90" cy="201.00" r="3.1"/>
<circle cx="380.38" cy="209.02" r="3.1"/>
<circle cx="380.87" cy="222.92" r="3.1"/>
<circle cx="381.36" cy="206.63" r="3.1"/>
<circle cx="381.85" cy="234.48" r="3.1"/>
<circle cx="382.33" cy="227.76" r="3.1"/>
<circle cx="382.82" cy="201.00" r="3.1"/>
<circle cx="383.31" cy="228.87" r="3.1"/>
<circle cx="383.79" cy="231.32" r="3.1"/>
<circle cx="384.28" cy="213.13" r="3.1"/>
<circle cx="384.77" cy="232.34" r="3.1"/>
<circle cx="385.25" cy="185.60" r="3.1"/>
<circle cx="385.74" cy="219.80" r="3.1"/>
<circle cx="386.23" cy="218.73" r="3.1"/>
<circle cx="386.71" cy="236.47" r="3.1"/>
<circle cx="387.20" cy="215.93" r="3.1"/>
<circle cx="387.69" cy="216.80" r="3.1"/>
<circle cx="388.17" cy="214.50" r="3.1"/>
<circle cx="388.66" cy="216.69" r="3.1"/>
<circle cx="389.15" cy="232.33" r="3.1"/>
<circle cx="389.63" cy="218.44" r="3.1"/>
<circle cx="390.12" cy="203.58" r="3.1"/>
<circle cx="390.61" cy="236.63" r="3.1"/>
<circle cx="391.09" cy="201.00" r="3.1"/>
<circle cx="391.58" cy="212.51" r="3.1"/>
<circle cx="392.07" cy="231.27" r="3.1"/>
<circle cx="392.56" cy="224.33" r="3.1"/>
<circle cx="393.04" cy="212.45" r="3.1"/>
<circle cx="393.53" cy="215.08" r="3.1"/>
<circle cx="394.02" cy="231.02" r="3.1"/>
<circle cx="394.50" cy="206.36" r="3.1"/>
<circle cx="394.99" cy="201.00" r="3.1"/>
<circle cx="395.48" cy="218.37" r="3.1"/>
<circle cx="395.96" cy="220.56" r="3.1"/>
<circle cx="396.45" cy="222.52" r="3.1"/>
<circle cx="396.94" cy="219.99" r="3.1"/>
<circle cx="397.42" cy="233.70" r="3.1"/>
<circle cx="397.91" cy="228.78" r="3.1"/>
<circle cx="398.40" cy="215.92" r="3.1"/>
<circle cx="398.88" cy="226.14" r="3.1"/>
<circle cx="399.37" cy="222.46" r="3.1"/>
<circle cx="399.86" cy="217.12" r="3.1"/>
<circle cx="400.34" cy="243.02" r="3.1"/>
<circle cx="400.83" cy="239.09" r="3.1"/>
<circle cx="401.32" cy="232.91" r="3.1"/>
<circle cx="401.80" cy="216.65" r="3.1"/>
<circle cx="402.29" cy="218.18" r="3.1"/>
<circle cx="402.78" cy="223.01" r="3.1"/>
<circle cx="403.27" cy="228.02" r="3.1"/>
<circle cx="403.75" cy="221.95" r="3.1"/>
<circle cx="404.24" cy="203.00" r="3.1"/>
<circle cx="404.73" cy="219.82" r="3.1"/>
<circle cx="405.21" cy="208.91" r="3.1"/>
<circle cx="405.70" cy="229.84" r="3.1"/>
<circle cx="406.19" cy="234.08" r="3.1"/>
<circle cx="406.67" cy="221.60" r="3.1"/>
<circle cx="407.16" cy="230.67" r="3.1"/>
<circle cx="407.65" cy="226.26" r="3.1"/>
<circle cx="408.13" cy="210.84" r="3.1"/>
<circle cx="408.62" cy="215.83" r="3.1"/>
<circle cx="409.11" cy="211.66" r="3.1"/>
<circle cx="409.59" cy="233.74" r="3.1"/>
<circle cx="410.08" cy="201.00" r="3.1"/>
<circle cx="410.57" cy="215.08" r="3.1"/>
<circle cx="411.05" cy="197.60" r="3.1"/>
<circle cx="411.54" cy="218.79" r="3.1"/>
<circle cx="412.03" cy="234.30" r="3.1"/>
<circle cx="412.51" cy="203.01" r="3.1"/>
<circle cx="413.00" cy="216.76" r="3.1"/>
<circle cx="413.49" cy="226.12" r="3.1"/>
<circle cx="413.98" cy="213.59" r="3.1"/>
<circle cx="414.46" cy="224.01" r="3.1"/>
<circle cx="414.95" cy="213.85" r="3.1"/>
<circle cx="415.44" cy="229.64" r="3.1"/>
<circle cx="415.92" cy="211.71" r="3.1"/>
<circle cx="416.41" cy="195.60" r="3.1"/>
<circle cx="416.90" cy="213.84" r="3.1"/>
<circle cx="417.38" cy="188.00" r="3.1"/>
<circle cx="417.87" cy="218.90" r="3.1"/>
<circle cx="418.36" cy="205.52" r="3.1"/>
<circle cx="418.84" cy="214.37" r="3.1"/>
<circle cx="419.33" cy="209.24" r="3.1"/>
<circle cx="419.82" cy="207.60" r="3.1"/>
<circle cx="420.30" cy="216.87" r="3.1"/>
<circle cx="420.79" cy="203.00" r="3.1"/>
<circle cx="421.28" cy="212.42" r="3.1"/>
<circle cx="421.76" cy="211.43" r="3.1"/>
<circle cx="422.25" cy="213.94" r="3.1"/>
<circle cx="422.74" cy="226.62" r="3.1"/>
<circle cx="423.22" cy="213.42" r="3.1"/>
<circle cx="423.71" cy="213.65" r="3.1"/>
<circle cx="424.20" cy="228.66" r="3.1"/>
<circle cx="424.68" cy="232.26" r="3.1"/>
<circle cx="425.17" cy="216.70" r="3.1"/>
<circle cx="425.66" cy="185.60" r="3.1"/>
<circle cx="426.15" cy="228.64" r="3.1"/>
<circle cx="426.63" cy="208.85" r="3.1"/>
<circle cx="427.12" cy="205.03" r="3.1"/>
<circle cx="427.61" cy="214.34" r="3.1"/>
<circle cx="428.09" cy="216.50" r="3.1"/>
<circle cx="428.58" cy="216.00" r="3.1"/>
<circle cx="429.07" cy="233.90" r="3.1"/>
<circle cx="429.55" cy="214.33" r="3.1"/>
<circle cx="430.04" cy="193.00" r="3.1"/>
<circle cx="430.53" cy="226.21" r="3.1"/>
<circle cx="431.01" cy="219.08" r="3.1"/>
<circle cx="431.50" cy="221.06" r="3.1"/>
<circle cx="431.99" cy="213.64" r="3.1"/>
<circle cx="432.47" cy="219.72" r="3.1"/>
<circle cx="432.96" cy="193.00" r="3.1"/>
<circle cx="433.45" cy="229.04" r="3.1"/>
<circle cx="433.93" cy="203.92" r="3.1"/>
<circle cx="434.42" cy="212.97" r="3.1"/>
<circle cx="434.91" cy="209.48" r="3.1"/>
<circle cx="435.39" cy="216.43" r="3.1"/>
<circle cx="435.88" cy="205.24" r="3.1"/>
<circle cx="436.37" cy="212.51" r="3.1"/>
<circle cx="436.86" cy="228.70" r="3.1"/>
<circle cx="437.34" cy="227.46" r="3.1"/>
<circle cx="437.83" cy="236.60" r="3.1"/>
<circle cx="438.32" cy="205.20" r="3.1"/>
<circle cx="438.80" cy="193.00" r="3.1"/>
<circle cx="439.29" cy="205.16" r="3.1"/>
<circle cx="439.78" cy="223.97" r="3.1"/>
<circle cx="440.26" cy="229.66" r="3.1"/>
<circle cx="440.75" cy="208.41" r="3.1"/>
<circle cx="441.24" cy="231.01" r="3.1"/>
<circle cx="441.72" cy="205.12" r="3.1"/>
<circle cx="442.21" cy="221.15" r="3.1"/>
<circle cx="442.70" cy="212.90" r="3.1"/>
<circle cx="443.18" cy="206.47" r="3.1"/>
<circle cx="443.67" cy="215.19" r="3.1"/>
<circle cx="444.16" cy="203.00" r="3.1"/>
<circle cx="444.64" cy="211.86" r="3.1"/>
<circle cx="445.13" cy="239.97" r="3.1"/>
<circle cx="445.62" cy="214.44" r="3.1"/>
<circle cx="446.10" cy="218.85" r="3.1"/>
<circle cx="446.59" cy="208.72" r="3.1"/>
<circle cx="447.08" cy="219.92" r="3.1"/>
<circle cx="447.57" cy="218.50" r="3.1"/>
<circle cx="448.05" cy="205.02" r="3.1"/>
<circle cx="448.54" cy="213.05" r="3.1"/>
<circle cx="449.03" cy="214.66" r="3.1"/>
<circle cx="449.51" cy="203.12" r="3.1"/>
<circle cx="450.00" cy="213.14" r="3.1"/>
<circle cx="450.49" cy="220.28" r="3.1"/>
<circle cx="450.97" cy="220.00" r="3.1"/>
<circle cx="451.46" cy="233.89" r="3.1"/>
<circle cx="451.95" cy="236.07" r="3.1"/>
<circle cx="452.43" cy="222.18" r="3.1"/>
<circle cx="452.92" cy="195.60" r="3.1"/>
<circle cx="453.41" cy="230.60" r="3.1"/>
<circle cx="453.89" cy="224.70" r="3.1"/>
<circle cx="454.38" cy="234.20" r="3.1"/>
<circle cx="454.87" cy="234.71" r="3.1"/>
<circle cx="455.35" cy="227.44" r="3.1"/>
<circle cx="455.84" cy="221.74" r="3.1"/>
<circle cx="456.33" cy="216.34" r="3.1"/>
<circle cx="456.81" cy="211.41" r="3.1"/>
<circle cx="457.30" cy="212.77" r="3.1"/>
<circle cx="457.79" cy="203.86" r="3.1"/>
<circle cx="458.28" cy="195.60" r="3.1"/>
<circle cx="458.76" cy="218.19" r="3.1"/>
<circle cx="459.25" cy="235.08" r="3.1"/>
<circle cx="459.74" cy="216.36" r="3.1"/>
<circle cx="460.22" cy="233.46" r="3.1"/>
<circle cx="460.71" cy="217.39" r="3.1"/>
<circle cx="461.20" cy="175.40" r="3.1"/>
<circle cx="461.68" cy="215.41" r="3.1"/>
<circle cx="462.17" cy="234.68" r="3.1"/>
<circle cx="462.66" cy="233.88" r="3.1"/>
<circle cx="463.14" cy="241.88" r="3.1"/>
<circle cx="463.63" cy="232.12" r="3.1"/>
<circle cx="464.12" cy="220.03" r="3.1"/>
<circle cx="464.60" cy="223.29" r="3.1"/>
<circle cx="465.09" cy="205.56" r="3.1"/>
<circle cx="465.58" cy="232.08" r="3.1"/>
<circle cx="466.06" cy="197.60" r="3.1"/>
<circle cx="466.55" cy="212.34" r="3.1"/>
<circle cx="467.04" cy="229.56" r="3.1"/>
<circle cx="467.52" cy="206.78" r="3.1"/>
<circle cx="468.01" cy="228.32" r="3.1"/>
<circle cx="468.50" cy="206.95" r="3.1"/>
<circle cx="468.99" cy="207.94" r="3.1"/>
<circle cx="469.47" cy="224.08" r="3.1"/>
<circle cx="469.96" cy="225.36" r="3.1"/>
<circle cx="470.45" cy="237.68" r="3.1"/>
<circle cx="470.93" cy="203.96" r="3.1"/>
<circle cx="471.42" cy="212.29" r="3.1"/>
<circle cx="471.91" cy="204.47" r="3.1"/>
<circle cx="472.39" cy="222.94" r="3.1"/>
<circle cx="472.88" cy="220.54" r="3.1"/>
<circle cx="473.37" cy="239.93" r="3.1"/>
<circle cx="473.85" cy="212.64" r="3.1"/>
<circle cx="474.34" cy="217.71" r="3.1"/>
<circle cx="474.83" cy="226.03" r="3.1"/>
<circle cx="475.31" cy="219.49" r="3.1"/>
<circle cx="475.80" cy="226.18" r="3.1"/>
<circle cx="476.29" cy="212.45" r="3.1"/>
<circle cx="476.77" cy="220.21" r="3.1"/>
<circle cx="477.26" cy="226.25" r="3.1"/>
<circle cx="477.75" cy="239.25" r="3.1"/>
<circle cx="478.23" cy="211.58" r="3.1"/>
<circle cx="478.72" cy="215.68" r="3.1"/>
<circle cx="479.21" cy="225.44" r="3.1"/>
<circle cx="479.70" cy="203.53" r="3.1"/>
<circle cx="480.18" cy="214.13" r="3.1"/>
<circle cx="480.67" cy="243.85" r="3.1"/>
<circle cx="481.16" cy="215.50" r="3.1"/>
<circle cx="481.64" cy="215.67" r="3.1"/>
<circle cx="482.13" cy="235.07" r="3.1"/>
<circle cx="482.62" cy="237.22" r="3.1"/>
<circle cx="483.10" cy="208.68" r="3.1"/>
<circle cx="483.59" cy="212.07" r="3.1"/>
<circle cx="484.08" cy="223.30" r="3.1"/>
<circle cx="484.56" cy="228.67" r="3.1"/>
<circle cx="485.05" cy="215.89" r="3.1"/>
<circle cx="485.54" cy="197.60" r="3.1"/>
<circle cx="486.02" cy="210.41" r="3.1"/>
<circle cx="486.51" cy="223.43" r="3.1"/>
<circle cx="487.00" cy="219.44" r="3.1"/>
<circle cx="487.48" cy="206.50" r="3.1"/>
<circle cx="487.97" cy="226.04" r="3.1"/>
<circle cx="488.46" cy="227.87" r="3.1"/>
<circle cx="488.94" cy="228.66" r="3.1"/>
<circle cx="489.43" cy="225.22" r="3.1"/>
<circle cx="489.92" cy="229.26" r="3.1"/>
<circle cx="490.41" cy="229.00" r="3.1"/>
<circle cx="490.89" cy="208.60" r="3.1"/>
<circle cx="491.38" cy="211.85" r="3.1"/>
<circle cx="491.87" cy="221.47" r="3.1"/>
<circle cx="492.35" cy="211.71" r="3.1"/>
<circle cx="492.84" cy="214.67" r="3.1"/>
<circle cx="493.33" cy="223.67" r="3.1"/>
<circle cx="493.81" cy="195.60" r="3.1"/>
<circle cx="494.30" cy="243.05" r="3.1"/>
<circle cx="494.79" cy="228.99" r="3.1"/>
<circle cx="495.27" cy="210.10" r="3.1"/>
<circle cx="495.76" cy="193.00" r="3.1"/>
<circle cx="496.25" cy="214.72" r="3.1"/>
<circle cx="496.73" cy="217.15" r="3.1"/>
<circle cx="497.22" cy="210.23" r="3.1"/>
<circle cx="497.71" cy="219.82" r="3.1"/>
<circle cx="498.19" cy="212.16" r="3.1"/>
<circle cx="498.68" cy="216.57" r="3.1"/>
<circle cx="499.17" cy="216.55" r="3.1"/>
<circle cx="499.65" cy="213.32" r="3.1"/>
<circle cx="500.14" cy="240.56" r="3.1"/>
<circle cx="500.63" cy="226.32" r="3.1"/>
<circle cx="501.12" cy="221.82" r="3.1"/>
<circle cx="501.60" cy="235.80" r="3.1"/>
<circle cx="502.09" cy="207.88" r="3.1"/>
<circle cx="502.58" cy="227.50" r="3.1"/>
<circle cx="503.06" cy="211.99" r="3.1"/>
<circle cx="503.55" cy="203.06" r="3.1"/>
<circle cx="504.04" cy="212.81" r="3.1"/>
<circle cx="504.52" cy="197.60" r="3.1"/>
<circle cx="505.01" cy="218.63" r="3.1"/>
<circle cx="505.50" cy="232.45" r="3.1"/>
<circle cx="505.98" cy="216.16" r="3.1"/>
<circle cx="506.47" cy="229.52" r="3.1"/>
<circle cx="506.96" cy="211.71" r="3.1"/>
<circle cx="507.44" cy="237.75" r="3.1"/>
<circle cx="507.93" cy="223.85" r="3.1"/>
<circle cx="508.42" cy="211.70" r="3.1"/>
<circle cx="508.90" cy="211.71" r="3.1"/>
<circle cx="509.39" cy="230.86" r="3.1"/>
<circle cx="509.88" cy="211.52" r="3.1"/>
<circle cx="510.36" cy="195.60" r="3.1"/>
<circle cx="510.85" cy="213.16" r="3.1"/>
<circle cx="511.34" cy="225.18" r="3.1"/>
<circle cx="511.83" cy="220.53" r="3.1"/>
<circle cx="512.31" cy="219.76" r="3.1"/>
<circle cx="512.80" cy="227.61" r="3.1"/>
<circle cx="513.29" cy="228.49" r="3.1"/>
<circle cx="513.77" cy="214.62" r="3.1"/>
<circle cx="514.26" cy="237.57" r="3.1"/>
<circle cx="514.75" cy="217.53" r="3.1"/>
<circle cx="515.23" cy="211.64" r="3.1"/>
<circle cx="515.72" cy="214.47" r="3.1"/>
<circle cx="516.21" cy="220.96" r="3.1"/>
<circle cx="516.69" cy="235.66" r="3.1"/>
<circle cx="517.18" cy="193.00" r="3.1"/>
<circle cx="517.67" cy="221.59" r="3.1"/>
<circle cx="518.15" cy="239.81" r="3.1"/>
<circle cx="518.64" cy="214.01" r="3.1"/>
<circle cx="519.13" cy="217.28" r="3.1"/>
<circle cx="519.61" cy="231.36" r="3.1"/>
<circle cx="520.10" cy="193.00" r="3.1"/>
<circle cx="520.59" cy="226.42" r="3.1"/>
<circle cx="521.07" cy="210.73" r="3.1"/>
<circle cx="521.56" cy="193.00" r="3.1"/>
<circle cx="522.05" cy="216.94" r="3.1"/>
<circle cx="522.54" cy="208.58" r="3.1"/>
<circle cx="523.02" cy="218.37" r="3.1"/>
<circle cx="523.51" cy="214.82" r="3.1"/>
<circle cx="524.00" cy="220.30" r="3.1"/>
<circle cx="524.48" cy="220.58" r="3.1"/>
<circle cx="524.97" cy="202.44" r="3.1"/>
<circle cx="525.46" cy="211.54" r="3.1"/>
<circle cx="525.94" cy="215.01" r="3.1"/>
<circle cx="526.43" cy="214.03" r="3.1"/>
<circle cx="526.92" cy="201.00" r="3.1"/>
<circle cx="527.40" cy="221.78" r="3.1"/>
<circle cx="527.89" cy="216.24" r="3.1"/>
<circle cx="528.38" cy="211.53" r="3.1"/>
<circle cx="528.86" cy="211.38" r="3.1"/>
<circle cx="529.35" cy="215.76" r="3.1"/>
<circle cx="529.84" cy="211.57" r="3.1"/>
<circle cx="530.32" cy="235.92" r="3.1"/>
<circle cx="530.81" cy="193.00" r="3.1"/>
<circle cx="531.30" cy="225.97" r="3.1"/>
<circle cx="531.78" cy="212.56" r="3.1"/>
<circle cx="532.27" cy="220.55" r="3.1"/>
<circle cx="532.76" cy="215.11" r="3.1"/>
<circle cx="533.25" cy="225.09" r="3.1"/>
<circle cx="533.73" cy="215.50" r="3.1"/>
<circle cx="534.22" cy="212.80" r="3.1"/>
<circle cx="534.71" cy="229.81" r="3.1"/>
<circle cx="535.19" cy="204.75" r="3.1"/>
<circle cx="535.68" cy="224.32" r="3.1"/>
<circle cx="536.17" cy="220.43" r="3.1"/>
<circle cx="536.65" cy="212.01" r="3.1"/>
<circle cx="537.14" cy="231.19" r="3.1"/>
<circle cx="537.63" cy="230.13" r="3.1"/>
<circle cx="538.11" cy="201.00" r="3.1"/>
<circle cx="538.60" cy="237.06" r="3.1"/>
</g>
<path d="M40.1 84.75H538.6" stroke="#D2835A" stroke-width="1.35" opacity="0.6"/>
<path d="M40.1 267.95H52M63.4 267.95H538.6" stroke="#64AE5B" stroke-width="1.15" opacity="0.62"/>
<path d="M52 267.95H63.4" stroke="#D9A441" stroke-width="1.15" opacity="0.7"/>
<g font-family="'Liberation Sans', sans-serif" font-size="10.2" fill="#262626">
<text x="40.10" y="299.6" text-anchor="middle">0</text>
<text x="34.3" y="287.70" text-anchor="end">0</text>
<text x="88.78" y="299.6" text-anchor="middle">100</text>
<text x="34.3" y="259.98" text-anchor="end">0.1</text>
<text x="137.46" y="299.6" text-anchor="middle">200</text>
<text x="34.3" y="232.26" text-anchor="end">0.2</text>
<text x="186.14" y="299.6" text-anchor="middle">300</text>
<text x="34.3" y="204.54" text-anchor="end">0.3</text>
<text x="234.83" y="299.6" text-anchor="middle">400</text>
<text x="34.3" y="176.82" text-anchor="end">0.4</text>
<text x="283.51" y="299.6" text-anchor="middle">500</text>
<text x="34.3" y="149.10" text-anchor="end">0.5</text>
<text x="332.19" y="299.6" text-anchor="middle">600</text>
<text x="34.3" y="121.38" text-anchor="end">0.6</text>
<text x="380.87" y="299.6" text-anchor="middle">700</text>
<text x="34.3" y="93.66" text-anchor="end">0.7</text>
<text x="429.55" y="299.6" text-anchor="middle">800</text>
<text x="34.3" y="65.94" text-anchor="end">0.8</text>
<text x="478.23" y="299.6" text-anchor="middle">900</text>
<text x="34.3" y="38.22" text-anchor="end">0.9</text>
<text x="526.92" y="299.6" text-anchor="middle">1000</text>
<text x="34.3" y="10.50" text-anchor="end">1</text>
</g>
<text x="289" y="316" text-anchor="middle" font-family="'Liberation Sans', sans-serif" font-size="12.1" fill="#262626">number of bit</text>
<text transform="translate(14.3,145) rotate(-90)" text-anchor="middle" font-family="'Liberation Sans', sans-serif" font-size="12.1" fill="#262626">the normalized sum of the column of the matrix</text>
<text x="275.6" y="344" text-anchor="middle" font-family="'Liberation Serif', serif" font-size="17" fill="#111">(<tspan font-weight="bold" font-size="15">a</tspan>)</text>
</svg>
</body></html>
